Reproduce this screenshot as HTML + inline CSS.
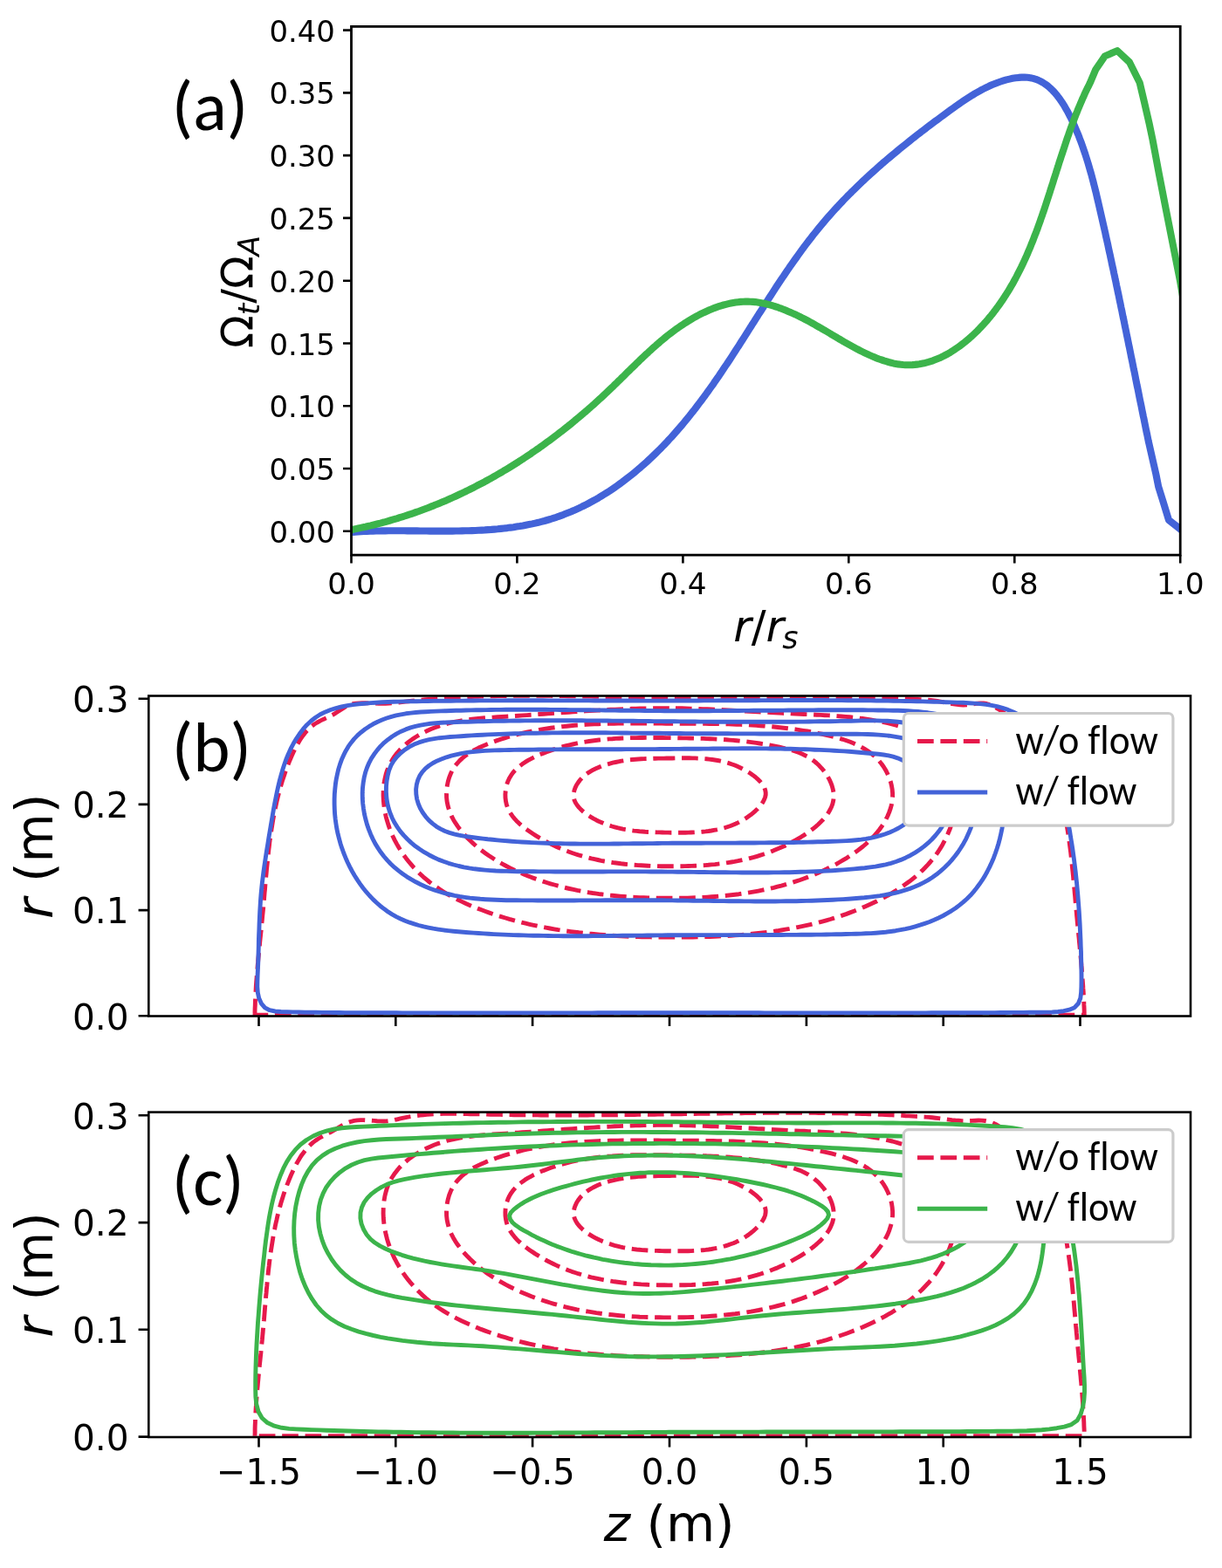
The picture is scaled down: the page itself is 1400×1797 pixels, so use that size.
<!DOCTYPE html>
<html><head><meta charset="utf-8"><title>Figure</title><style>html,body{margin:0;padding:0;background:#fff;}svg{display:block;}.tk{font-family:"DejaVu Sans","Liberation Sans",sans-serif;fill:#000;}.cal{font-family:Carlito,"Liberation Sans",sans-serif;fill:#000;font-variant-ligatures:none;font-feature-settings:"liga" 0,"clig" 0;}</style></head><body>
<svg width="1400" height="1797" viewBox="0 0 1400 1797">
<rect width="1400" height="1797" fill="#fff"/>
<defs>
<clipPath id="clipa"><rect x="402.5" y="30.4" width="949.7" height="605.7"/></clipPath>
<clipPath id="clipb"><rect x="170.3" y="797.5" width="1193.7" height="367.0"/></clipPath>
<clipPath id="clipc"><rect x="170.3" y="1274.6" width="1193.7" height="372.4"/></clipPath>
</defs>
<g clip-path="url(#clipa)" fill="none" stroke-linejoin="round" stroke-linecap="butt">
<path d="M403.4,609.9 L406.7,609.6 L410.1,609.4 L413.6,609.2 L417.0,609.0 L420.4,608.9 L423.9,608.8 L427.4,608.6 L430.9,608.5 L434.4,608.5 L438.0,608.4 L441.5,608.4 L445.1,608.3 L448.7,608.3 L452.3,608.3 L455.9,608.3 L459.5,608.3 L463.1,608.3 L466.8,608.4 L470.4,608.4 L474.1,608.4 L477.7,608.4 L481.4,608.5 L485.1,608.5 L488.8,608.5 L492.5,608.6 L496.2,608.6 L499.9,608.6 L503.6,608.6 L507.3,608.6 L511.0,608.6 L514.7,608.6 L518.4,608.6 L522.1,608.5 L525.8,608.5 L529.5,608.4 L533.2,608.3 L537.0,608.2 L540.7,608.1 L544.4,608.0 L548.1,607.8 L551.8,607.6 L555.5,607.4 L559.1,607.1 L562.8,606.9 L566.5,606.6 L570.1,606.3 L573.8,605.9 L577.4,605.5 L581.1,605.1 L584.7,604.6 L588.3,604.2 L591.9,603.6 L595.5,603.1 L599.1,602.5 L602.6,601.8 L606.2,601.1 L609.7,600.4 L613.2,599.6 L616.7,598.8 L620.2,597.9 L623.7,597.0 L627.1,596.0 L630.6,595.0 L634.0,593.9 L637.4,592.8 L640.7,591.6 L644.1,590.4 L647.4,589.1 L650.7,587.8 L654.0,586.5 L657.3,585.1 L660.6,583.6 L663.8,582.1 L667.0,580.5 L670.2,579.0 L673.4,577.3 L676.5,575.6 L679.7,573.9 L682.8,572.2 L685.9,570.4 L689.0,568.5 L692.0,566.6 L695.1,564.7 L698.1,562.8 L701.1,560.8 L704.0,558.8 L707.0,556.7 L709.9,554.6 L712.8,552.5 L715.7,550.3 L718.6,548.1 L721.4,545.9 L724.3,543.6 L727.1,541.3 L729.8,539.0 L732.6,536.7 L735.3,534.3 L738.1,531.9 L740.8,529.5 L743.4,527.0 L746.1,524.5 L748.7,522.0 L751.3,519.5 L753.9,516.9 L756.5,514.4 L759.0,511.8 L761.6,509.1 L764.1,506.5 L766.5,503.8 L769.0,501.2 L771.4,498.5 L773.8,495.8 L776.2,493.0 L778.6,490.3 L781.0,487.5 L783.3,484.7 L785.6,481.9 L787.9,479.1 L790.2,476.3 L792.4,473.4 L794.7,470.6 L796.9,467.7 L799.1,464.8 L801.3,461.9 L803.5,459.0 L805.6,456.1 L807.8,453.2 L809.9,450.2 L812.1,447.3 L814.2,444.3 L816.3,441.4 L818.3,438.4 L820.4,435.4 L822.5,432.4 L824.5,429.4 L826.6,426.4 L828.6,423.3 L830.6,420.3 L832.7,417.3 L834.7,414.2 L836.7,411.2 L838.7,408.1 L840.6,405.1 L842.6,402.0 L844.6,398.9 L846.6,395.9 L848.5,392.8 L850.5,389.7 L852.5,386.6 L854.4,383.6 L856.4,380.5 L858.3,377.4 L860.3,374.3 L862.2,371.2 L864.2,368.2 L866.1,365.1 L868.1,362.0 L870.0,358.9 L872.0,355.9 L874.0,352.8 L875.9,349.7 L877.9,346.6 L879.8,343.6 L881.8,340.5 L883.8,337.5 L885.8,334.4 L887.7,331.4 L889.7,328.3 L891.7,325.3 L893.7,322.3 L895.7,319.3 L897.8,316.3 L899.8,313.3 L901.8,310.3 L903.9,307.3 L905.9,304.3 L908.0,301.4 L910.1,298.4 L912.2,295.5 L914.3,292.5 L916.4,289.6 L918.5,286.7 L920.6,283.8 L922.8,280.9 L924.9,278.1 L927.1,275.2 L929.3,272.4 L931.5,269.5 L933.8,266.7 L936.0,263.9 L938.3,261.1 L940.6,258.4 L942.9,255.6 L945.2,252.9 L947.5,250.2 L949.9,247.5 L952.2,244.8 L954.6,242.1 L957.0,239.5 L959.5,236.9 L961.9,234.2 L964.4,231.6 L966.8,229.0 L969.3,226.5 L971.8,223.9 L974.4,221.4 L976.9,218.8 L979.5,216.3 L982.0,213.8 L984.6,211.3 L987.2,208.8 L989.9,206.4 L992.5,203.9 L995.1,201.5 L997.8,199.0 L1000.5,196.6 L1003.2,194.2 L1005.9,191.8 L1008.6,189.4 L1011.3,187.0 L1014.1,184.7 L1016.8,182.3 L1019.6,180.0 L1022.4,177.6 L1025.2,175.3 L1028.0,173.0 L1030.8,170.7 L1033.6,168.4 L1036.5,166.1 L1039.3,163.8 L1042.2,161.5 L1045.1,159.2 L1047.9,157.0 L1050.8,154.7 L1053.7,152.5 L1056.6,150.2 L1059.6,148.0 L1062.5,145.7 L1065.4,143.5 L1068.4,141.3 L1071.3,139.1 L1074.3,136.9 L1077.3,134.6 L1080.3,132.4 L1083.3,130.2 L1086.3,128.0 L1089.3,125.8 L1092.3,123.7 L1095.3,121.5 L1098.4,119.4 L1101.4,117.3 L1104.5,115.2 L1107.6,113.2 L1110.7,111.2 L1113.8,109.2 L1116.9,107.3 L1120.1,105.5 L1123.3,103.7 L1126.5,102.0 L1129.7,100.4 L1133.0,98.8 L1136.3,97.3 L1139.6,96.0 L1142.9,94.7 L1146.3,93.5 L1149.7,92.4 L1153.1,91.4 L1156.6,90.6 L1160.1,89.8 L1163.6,89.3 L1167.0,88.9 L1170.4,88.6 L1173.8,88.6 L1177.2,88.8 L1180.4,89.2 L1183.6,89.9 L1186.7,90.8 L1189.7,92.0 L1192.5,93.4 L1195.4,95.0 L1198.1,96.8 L1200.7,98.8 L1203.2,101.0 L1205.7,103.4 L1208.1,105.9 L1210.4,108.6 L1212.6,111.4 L1214.8,114.4 L1216.9,117.5 L1218.9,120.6 L1220.8,123.9 L1222.7,127.2 L1224.5,130.6 L1226.3,134.1 L1228.0,137.6 L1229.6,141.2 L1231.2,144.7 L1232.7,148.3 L1234.2,151.9 L1235.7,155.4 L1237.0,159.0 L1238.4,162.5 L1239.7,166.1 L1240.9,169.6 L1242.1,173.1 L1243.3,176.6 L1244.4,180.1 L1245.5,183.6 L1246.6,187.1 L1247.6,190.6 L1248.6,194.1 L1249.6,197.5 L1250.6,201.0 L1251.5,204.5 L1252.4,207.9 L1253.3,211.4 L1254.2,214.9 L1255.0,218.3 L1255.9,221.8 L1256.7,225.3 L1257.5,228.7 L1258.3,232.2 L1259.1,235.7 L1259.9,239.1 L1260.7,242.6 L1261.5,246.1 L1262.3,249.6 L1263.1,253.1 L1263.9,256.6 L1264.7,260.1 L1265.5,263.6 L1266.3,267.1 L1267.0,270.6 L1267.8,274.2 L1268.6,277.7 L1269.4,281.2 L1270.1,284.7 L1270.9,288.3 L1271.7,291.8 L1272.4,295.3 L1273.2,298.9 L1273.9,302.4 L1274.7,306.0 L1275.5,309.5 L1276.2,313.1 L1277.0,316.6 L1277.7,320.2 L1278.5,323.7 L1279.2,327.3 L1280.0,330.9 L1280.7,334.4 L1281.5,338.0 L1282.2,341.6 L1282.9,345.1 L1283.7,348.7 L1284.4,352.3 L1285.2,355.8 L1285.9,359.4 L1286.6,363.0 L1287.4,366.5 L1288.1,370.1 L1288.8,373.7 L1289.6,377.3 L1290.3,380.8 L1291.0,384.4 L1291.8,388.0 L1292.5,391.6 L1293.2,395.1 L1294.0,398.7 L1294.7,402.3 L1295.4,405.8 L1296.1,409.4 L1296.9,413.0 L1297.6,416.6 L1298.3,420.1 L1299.0,423.7 L1299.8,427.2 L1300.5,430.8 L1301.2,434.4 L1301.9,437.9 L1302.6,441.5 L1303.4,445.0 L1304.1,448.6 L1304.8,452.1 L1305.5,455.7 L1306.2,459.2 L1307.0,462.8 L1307.7,466.3 L1308.4,469.9 L1309.1,473.4 L1309.8,476.9 L1310.6,480.4 L1311.3,484.0 L1312.0,487.5 L1312.7,491.0 L1313.4,494.5 L1314.2,498.0 L1314.9,501.5 L1315.6,505.0 L1324.4,543.6 L1327.2,557.7 L1333.2,577.0 L1339.0,596.0 L1352.0,606.2 L1360.0,612.5" stroke="#4363d8" stroke-width="8.1"/>
<path d="M401.8,607.3 L404.7,606.7 L407.5,606.1 L410.4,605.5 L413.2,604.9 L416.1,604.3 L418.9,603.7 L421.7,603.0 L424.6,602.4 L427.4,601.7 L430.2,601.0 L433.0,600.3 L435.8,599.6 L438.6,598.8 L441.4,598.1 L444.1,597.3 L446.9,596.5 L449.7,595.7 L452.4,594.9 L455.2,594.1 L457.9,593.2 L460.7,592.4 L463.4,591.5 L466.1,590.6 L468.9,589.7 L471.6,588.8 L474.3,587.9 L477.0,586.9 L479.7,586.0 L482.4,585.0 L485.0,584.0 L487.7,583.0 L490.4,582.0 L493.0,580.9 L495.7,579.9 L498.3,578.8 L501.0,577.8 L503.6,576.7 L506.3,575.6 L508.9,574.5 L511.5,573.4 L514.1,572.2 L516.7,571.1 L519.3,569.9 L521.9,568.7 L524.5,567.5 L527.1,566.3 L529.6,565.1 L532.2,563.9 L534.7,562.6 L537.3,561.4 L539.8,560.1 L542.4,558.8 L544.9,557.5 L547.4,556.2 L549.9,554.9 L552.5,553.6 L555.0,552.3 L557.5,550.9 L560.0,549.5 L562.4,548.2 L564.9,546.8 L567.4,545.4 L569.9,543.9 L572.3,542.5 L574.8,541.1 L577.2,539.6 L579.6,538.2 L582.1,536.7 L584.5,535.2 L586.9,533.7 L589.3,532.2 L591.7,530.7 L594.1,529.2 L596.5,527.6 L598.9,526.1 L601.3,524.5 L603.7,522.9 L606.0,521.4 L608.4,519.8 L610.7,518.1 L613.1,516.5 L615.4,514.9 L617.8,513.3 L620.1,511.6 L622.4,510.0 L624.7,508.3 L627.0,506.6 L629.3,504.9 L631.6,503.2 L633.9,501.5 L636.2,499.8 L638.4,498.1 L640.7,496.3 L643.0,494.6 L645.2,492.8 L647.5,491.0 L649.7,489.3 L651.9,487.5 L654.2,485.7 L656.4,483.9 L658.6,482.0 L660.8,480.2 L663.0,478.4 L665.2,476.5 L667.4,474.7 L669.5,472.8 L671.7,471.0 L673.9,469.1 L676.0,467.2 L678.2,465.3 L680.3,463.4 L682.4,461.5 L684.6,459.5 L686.7,457.6 L688.8,455.7 L690.9,453.7 L693.0,451.7 L695.1,449.8 L697.2,447.8 L699.3,445.8 L701.4,443.8 L703.4,441.8 L705.5,439.8 L707.5,437.8 L709.6,435.8 L711.6,433.8 L713.7,431.8 L715.7,429.8 L717.8,427.7 L719.8,425.7 L721.9,423.7 L723.9,421.7 L726.0,419.7 L728.1,417.7 L730.1,415.7 L732.2,413.7 L734.2,411.7 L736.3,409.7 L738.4,407.8 L740.5,405.8 L742.6,403.9 L744.7,401.9 L746.8,400.0 L748.9,398.1 L751.1,396.2 L753.2,394.3 L755.4,392.5 L757.5,390.6 L759.7,388.8 L761.9,387.0 L764.1,385.2 L766.4,383.4 L768.6,381.7 L770.9,380.0 L773.2,378.3 L775.5,376.6 L777.8,375.0 L780.1,373.4 L782.5,371.8 L784.9,370.2 L787.3,368.7 L789.7,367.2 L792.2,365.7 L794.6,364.3 L797.2,362.9 L799.7,361.5 L802.2,360.2 L804.8,358.9 L807.4,357.7 L810.1,356.5 L812.7,355.3 L815.4,354.2 L818.1,353.1 L820.8,352.1 L823.5,351.2 L826.2,350.3 L829.0,349.5 L831.7,348.8 L834.5,348.1 L837.3,347.5 L840.1,347.0 L842.9,346.5 L845.7,346.2 L848.5,345.9 L851.3,345.7 L854.1,345.6 L856.9,345.6 L859.7,345.7 L862.5,345.9 L865.3,346.1 L868.0,346.5 L870.8,346.9 L873.6,347.4 L876.4,348.0 L879.1,348.7 L881.8,349.4 L884.6,350.1 L887.3,351.0 L890.0,351.8 L892.6,352.8 L895.3,353.7 L897.9,354.7 L900.5,355.8 L903.1,356.9 L905.7,358.0 L908.2,359.1 L910.7,360.2 L913.2,361.4 L915.7,362.6 L918.2,363.9 L920.7,365.1 L923.1,366.4 L925.6,367.7 L928.0,369.0 L930.5,370.4 L933.0,371.8 L935.4,373.2 L937.9,374.6 L940.4,376.0 L942.9,377.5 L945.4,378.9 L947.9,380.4 L950.4,381.9 L953.0,383.5 L955.6,385.0 L958.2,386.5 L960.8,388.1 L963.5,389.6 L966.1,391.2 L968.8,392.7 L971.5,394.2 L974.2,395.7 L976.9,397.2 L979.6,398.7 L982.3,400.2 L985.0,401.6 L987.8,403.0 L990.5,404.3 L993.3,405.6 L996.0,406.9 L998.8,408.1 L1001.6,409.3 L1004.3,410.4 L1007.1,411.5 L1009.9,412.4 L1012.6,413.4 L1015.4,414.2 L1018.1,415.0 L1020.9,415.7 L1023.6,416.4 L1026.4,416.9 L1029.1,417.4 L1031.9,417.7 L1034.6,418.0 L1037.3,418.2 L1040.0,418.3 L1042.7,418.2 L1045.3,418.1 L1048.0,417.9 L1050.7,417.6 L1053.3,417.3 L1055.9,416.8 L1058.5,416.3 L1061.1,415.6 L1063.7,414.9 L1066.3,414.1 L1068.8,413.3 L1071.3,412.3 L1073.9,411.3 L1076.4,410.3 L1078.8,409.1 L1081.3,407.9 L1083.7,406.6 L1086.2,405.3 L1088.6,403.9 L1090.9,402.4 L1093.3,400.9 L1095.6,399.3 L1097.9,397.7 L1100.2,396.1 L1102.5,394.3 L1104.7,392.6 L1107.0,390.8 L1109.2,388.9 L1111.3,387.0 L1113.5,385.1 L1115.6,383.1 L1117.7,381.1 L1119.8,379.1 L1121.8,377.0 L1123.8,374.9 L1125.8,372.8 L1127.7,370.6 L1129.7,368.5 L1131.6,366.3 L1133.4,364.0 L1135.3,361.8 L1137.1,359.6 L1138.8,357.3 L1140.6,355.0 L1142.3,352.7 L1144.0,350.4 L1145.6,348.1 L1147.3,345.7 L1148.9,343.4 L1150.4,341.0 L1152.0,338.6 L1153.5,336.2 L1155.0,333.8 L1156.5,331.3 L1157.9,328.9 L1159.4,326.4 L1160.8,323.9 L1162.1,321.5 L1163.5,319.0 L1164.8,316.5 L1166.1,313.9 L1167.4,311.4 L1168.7,308.9 L1170.0,306.3 L1171.2,303.7 L1172.4,301.2 L1173.6,298.6 L1174.8,296.0 L1176.0,293.4 L1177.1,290.8 L1178.2,288.1 L1179.4,285.5 L1180.5,282.9 L1181.5,280.2 L1182.6,277.6 L1183.7,274.9 L1184.7,272.2 L1185.7,269.5 L1186.8,266.9 L1187.8,264.2 L1188.8,261.5 L1189.7,258.8 L1190.7,256.1 L1191.7,253.4 L1192.6,250.6 L1193.6,247.9 L1194.5,245.2 L1195.5,242.5 L1196.4,239.7 L1197.3,237.0 L1198.2,234.3 L1199.1,231.5 L1200.0,228.8 L1200.9,226.0 L1201.8,223.3 L1202.7,220.5 L1203.5,217.8 L1204.4,215.1 L1205.3,212.3 L1206.2,209.5 L1207.0,206.8 L1207.9,204.0 L1208.8,201.3 L1209.7,198.5 L1210.5,195.8 L1211.4,193.1 L1212.3,190.3 L1213.1,187.6 L1214.0,184.8 L1214.9,182.1 L1215.8,179.3 L1216.7,176.6 L1217.6,173.9 L1218.5,171.2 L1219.4,168.4 L1220.3,165.7 L1221.2,163.0 L1222.1,160.3 L1223.0,157.6 L1224.0,154.9 L1224.9,152.2 L1225.9,149.5 L1226.8,146.9 L1227.8,144.2 L1228.8,141.5 L1229.8,138.9 L1230.8,136.2 L1231.8,133.6 L1232.8,130.9 L1233.9,128.3 L1234.9,125.7 L1236.0,123.1 L1237.1,120.5 L1238.2,117.9 L1239.3,115.3 L1240.4,112.7 L1241.6,110.2 L1242.7,107.6 L1243.9,105.1 L1245.1,102.6 L1246.3,100.1 L1247.6,97.6 L1248.8,95.1 L1255.1,80.1 L1265.7,64.4 L1280.0,58.1 L1294.0,71.3 L1305.7,94.7 L1311.2,118.0 L1316.5,141.0 L1320.5,160.0 L1327.8,199.0 L1335.8,240.0 L1343.8,280.5 L1352.0,322.0 L1356.0,345.0" stroke="#3cb44b" stroke-width="8.1"/>
</g>
<g clip-path="url(#clipb)" fill="none" stroke-width="4.9" stroke-linejoin="round">
<path d="M767.0,869.0 L763.8,869.0 L760.5,869.1 L757.3,869.1 L754.0,869.1 L750.8,869.2 L747.5,869.3 L744.3,869.3 L741.1,869.5 L737.8,869.6 L734.6,869.8 L731.3,870.0 L728.1,870.2 L724.8,870.5 L721.6,870.8 L718.3,871.2 L715.1,871.7 L711.8,872.2 L708.5,872.8 L705.3,873.5 L702.0,874.2 L698.7,875.1 L695.4,876.0 L692.2,877.0 L688.9,878.2 L685.8,879.4 L682.7,880.8 L679.7,882.2 L676.8,883.9 L674.0,885.6 L671.3,887.5 L668.8,889.6 L666.5,891.8 L664.3,894.2 L662.4,896.8 L660.6,899.5 L659.2,902.4 L658.1,905.3 L657.4,908.3 L657.1,911.3 L657.4,914.3 L658.1,917.2 L659.4,920.0 L661.2,922.8 L663.3,925.4 L665.7,927.9 L668.4,930.3 L671.2,932.5 L674.0,934.5 L677.0,936.4 L679.9,938.1 L682.9,939.7 L685.9,941.2 L688.9,942.5 L691.9,943.8 L695.0,944.9 L698.0,946.0 L701.1,947.0 L704.2,947.8 L707.3,948.7 L710.4,949.4 L713.6,950.1 L716.7,950.7 L719.9,951.2 L723.0,951.7 L726.2,952.1 L729.4,952.4 L732.6,952.8 L735.9,953.0 L739.1,953.3 L742.3,953.5 L745.6,953.6 L748.8,953.7 L752.1,953.9 L755.4,953.9 L758.7,954.0 L762.0,954.1 L765.3,954.1 L768.6,954.2 L771.9,954.2 L775.3,954.2 L778.6,954.2 L781.9,954.2 L785.3,954.2 L788.6,954.1 L791.9,954.0 L795.2,953.9 L798.5,953.7 L801.8,953.5 L805.1,953.2 L808.4,952.9 L811.7,952.5 L814.9,952.0 L818.1,951.4 L821.3,950.8 L824.5,950.1 L827.7,949.4 L830.8,948.5 L833.9,947.5 L836.9,946.5 L840.0,945.3 L843.0,944.0 L845.9,942.6 L848.8,941.1 L851.7,939.5 L854.6,937.7 L857.3,935.8 L860.1,933.8 L862.8,931.6 L865.4,929.3 L867.9,926.9 L870.2,924.4 L872.3,921.8 L874.1,919.1 L875.5,916.4 L876.6,913.6 L877.2,910.9 L877.2,908.2 L876.7,905.5 L875.8,902.8 L874.3,900.2 L872.6,897.7 L870.4,895.2 L868.0,892.8 L865.4,890.5 L862.6,888.4 L859.6,886.3 L856.6,884.4 L853.6,882.6 L850.5,881.0 L847.4,879.5 L844.3,878.1 L841.2,876.8 L838.1,875.7 L834.9,874.6 L831.8,873.7 L828.6,872.9 L825.4,872.2 L822.2,871.5 L819.0,871.0 L815.8,870.5 L812.6,870.1 L809.3,869.7 L806.1,869.5 L802.9,869.2 L799.6,869.1 L796.4,868.9 L793.1,868.9 L789.8,868.8 L786.6,868.8 L783.3,868.8 L780.1,868.8 L776.8,868.9 L773.5,868.9 L770.3,869.0 L767.0,869.0Z" stroke="#e6194b" stroke-dasharray="18.7 7.7"/>
<path d="M767.1,845.6 L763.3,845.6 L759.4,845.5 L755.5,845.5 L751.7,845.5 L747.8,845.5 L744.0,845.4 L740.1,845.4 L736.2,845.5 L732.4,845.5 L728.5,845.6 L724.7,845.6 L720.8,845.7 L717.0,845.9 L713.1,846.0 L709.3,846.2 L705.4,846.4 L701.6,846.7 L697.8,846.9 L693.9,847.3 L690.1,847.6 L686.3,848.0 L682.5,848.5 L678.7,849.0 L674.9,849.5 L671.1,850.1 L667.3,850.7 L663.6,851.4 L659.8,852.2 L656.0,853.0 L652.3,853.8 L648.6,854.7 L644.8,855.7 L641.1,856.8 L637.4,857.9 L633.7,859.1 L630.1,860.4 L626.4,861.7 L622.8,863.1 L619.1,864.6 L615.5,866.1 L611.9,867.8 L608.4,869.6 L605.0,871.4 L601.7,873.4 L598.5,875.6 L595.5,877.9 L592.7,880.3 L590.0,882.9 L587.6,885.7 L585.5,888.7 L583.6,891.8 L582.0,895.2 L580.7,898.8 L579.8,902.6 L579.2,906.5 L578.9,910.5 L579.0,914.4 L579.5,918.3 L580.3,922.0 L581.5,925.5 L583.0,928.9 L584.9,932.1 L587.0,935.2 L589.4,938.1 L591.9,940.9 L594.7,943.6 L597.7,946.2 L600.7,948.6 L603.9,951.0 L607.2,953.3 L610.5,955.5 L613.8,957.6 L617.1,959.6 L620.5,961.6 L623.9,963.5 L627.3,965.3 L630.8,967.1 L634.2,968.8 L637.7,970.4 L641.2,972.0 L644.7,973.4 L648.3,974.9 L651.9,976.2 L655.5,977.5 L659.1,978.7 L662.7,979.9 L666.4,980.9 L670.1,982.0 L673.8,982.9 L677.5,983.9 L681.2,984.7 L685.0,985.5 L688.7,986.3 L692.5,987.0 L696.3,987.6 L700.1,988.2 L703.9,988.8 L707.7,989.3 L711.5,989.8 L715.4,990.2 L719.2,990.6 L723.0,991.0 L726.9,991.3 L730.8,991.6 L734.6,991.8 L738.5,992.0 L742.4,992.2 L746.2,992.4 L750.1,992.5 L754.0,992.6 L757.8,992.7 L761.7,992.7 L765.6,992.8 L769.4,992.8 L773.3,992.8 L777.1,992.7 L781.0,992.7 L784.8,992.6 L788.6,992.5 L792.5,992.4 L796.3,992.2 L800.1,992.0 L803.9,991.8 L807.7,991.6 L811.5,991.3 L815.3,990.9 L819.1,990.6 L822.8,990.1 L826.6,989.7 L830.4,989.2 L834.1,988.6 L837.9,988.0 L841.6,987.4 L845.3,986.7 L849.0,985.9 L852.7,985.1 L856.4,984.3 L860.1,983.3 L863.8,982.4 L867.5,981.3 L871.1,980.2 L874.8,979.0 L878.4,977.8 L882.0,976.5 L885.6,975.1 L889.2,973.6 L892.8,972.1 L896.4,970.5 L900.0,968.9 L903.5,967.1 L907.1,965.3 L910.6,963.3 L914.1,961.3 L917.6,959.3 L921.1,957.1 L924.5,954.8 L927.8,952.5 L931.1,950.1 L934.2,947.6 L937.2,945.0 L940.0,942.3 L942.7,939.6 L945.2,936.8 L947.4,933.9 L949.4,930.9 L951.1,927.8 L952.6,924.7 L953.8,921.5 L954.6,918.2 L955.1,914.8 L955.2,911.4 L954.9,907.9 L954.2,904.3 L953.2,900.7 L951.9,897.2 L950.3,893.6 L948.4,890.1 L946.2,886.7 L943.8,883.4 L941.2,880.3 L938.4,877.3 L935.4,874.5 L932.3,871.9 L929.1,869.6 L925.8,867.5 L922.3,865.7 L918.8,864.0 L915.3,862.5 L911.6,861.2 L907.9,860.0 L904.2,858.9 L900.5,858.0 L896.7,857.1 L893.0,856.2 L889.2,855.4 L885.4,854.6 L881.6,853.9 L877.9,853.2 L874.1,852.6 L870.3,852.0 L866.5,851.4 L862.7,850.9 L858.9,850.4 L855.1,849.9 L851.3,849.5 L847.5,849.1 L843.7,848.7 L839.9,848.4 L836.1,848.1 L832.3,847.8 L828.5,847.5 L824.7,847.3 L820.8,847.1 L817.0,846.9 L813.2,846.7 L809.4,846.6 L805.5,846.4 L801.7,846.3 L797.9,846.2 L794.0,846.1 L790.2,846.0 L786.4,845.9 L782.5,845.9 L778.7,845.8 L774.8,845.7 L771.0,845.7 L767.1,845.6Z" stroke="#e6194b" stroke-dasharray="18.7 7.7"/>
<path d="M767.4,829.2 L762.9,829.2 L758.3,829.1 L753.8,829.1 L749.2,829.1 L744.7,829.0 L740.1,829.0 L735.6,829.0 L731.0,829.0 L726.4,829.0 L721.9,829.0 L717.3,829.0 L712.8,829.1 L708.2,829.1 L703.6,829.2 L699.1,829.3 L694.5,829.4 L690.0,829.5 L685.4,829.7 L680.9,829.9 L676.3,830.1 L671.8,830.4 L667.2,830.7 L662.7,831.0 L658.2,831.3 L653.7,831.7 L649.2,832.2 L644.7,832.6 L640.2,833.2 L635.7,833.7 L631.2,834.3 L626.7,835.0 L622.2,835.7 L617.8,836.4 L613.3,837.2 L608.9,838.1 L604.5,839.0 L600.1,840.0 L595.7,841.0 L591.3,842.2 L586.9,843.3 L582.5,844.5 L578.2,845.8 L573.9,847.2 L569.5,848.6 L565.2,850.2 L560.9,851.7 L556.7,853.4 L552.5,855.2 L548.3,857.1 L544.3,859.1 L540.4,861.3 L536.6,863.6 L533.0,866.2 L529.7,868.9 L526.5,871.9 L523.6,875.1 L520.9,878.5 L518.5,882.3 L516.5,886.3 L514.8,890.6 L513.4,895.2 L512.4,899.9 L511.7,904.6 L511.5,909.3 L511.6,914.0 L512.1,918.6 L513.0,923.0 L514.2,927.3 L515.7,931.4 L517.4,935.5 L519.5,939.4 L521.8,943.2 L524.3,946.9 L526.9,950.5 L529.8,954.0 L532.8,957.4 L535.9,960.7 L539.1,963.8 L542.4,966.9 L545.8,969.9 L549.3,972.8 L552.9,975.5 L556.6,978.2 L560.3,980.8 L564.2,983.3 L568.0,985.8 L572.0,988.1 L576.0,990.3 L580.0,992.5 L584.1,994.6 L588.3,996.6 L592.4,998.5 L596.6,1000.4 L600.8,1002.2 L605.0,1003.9 L609.2,1005.6 L613.5,1007.1 L617.8,1008.6 L622.1,1010.1 L626.4,1011.5 L630.7,1012.8 L635.0,1014.0 L639.3,1015.2 L643.7,1016.4 L648.1,1017.5 L652.5,1018.5 L656.9,1019.4 L661.3,1020.4 L665.7,1021.2 L670.1,1022.0 L674.6,1022.8 L679.0,1023.5 L683.5,1024.1 L687.9,1024.8 L692.4,1025.3 L696.9,1025.9 L701.4,1026.3 L705.9,1026.8 L710.4,1027.2 L714.9,1027.5 L719.5,1027.9 L724.0,1028.2 L728.5,1028.4 L733.1,1028.6 L737.6,1028.8 L742.1,1029.0 L746.7,1029.1 L751.2,1029.2 L755.8,1029.3 L760.3,1029.3 L764.9,1029.3 L769.5,1029.3 L774.0,1029.3 L778.6,1029.3 L783.1,1029.2 L787.7,1029.1 L792.2,1028.9 L796.8,1028.8 L801.3,1028.6 L805.9,1028.4 L810.4,1028.1 L815.0,1027.8 L819.5,1027.5 L824.0,1027.1 L828.5,1026.7 L833.0,1026.3 L837.5,1025.8 L842.0,1025.2 L846.5,1024.7 L851.0,1024.0 L855.5,1023.4 L859.9,1022.7 L864.4,1021.9 L868.8,1021.1 L873.2,1020.2 L877.6,1019.3 L882.0,1018.3 L886.4,1017.3 L890.7,1016.2 L895.1,1015.1 L899.4,1013.9 L903.7,1012.6 L908.0,1011.3 L912.3,1009.9 L916.6,1008.5 L920.8,1007.0 L925.0,1005.4 L929.2,1003.8 L933.4,1002.1 L937.6,1000.3 L941.7,998.4 L945.8,996.5 L949.9,994.5 L954.0,992.4 L958.0,990.3 L962.0,988.0 L966.0,985.7 L970.0,983.3 L973.9,980.8 L977.7,978.3 L981.5,975.6 L985.2,972.8 L988.8,970.0 L992.3,967.0 L995.6,963.9 L998.9,960.7 L1002.0,957.4 L1004.9,954.0 L1007.7,950.5 L1010.3,946.8 L1012.8,943.0 L1015.0,939.1 L1017.0,935.0 L1018.7,930.9 L1020.2,926.6 L1021.4,922.3 L1022.1,917.9 L1022.6,913.5 L1022.6,909.0 L1022.2,904.6 L1021.4,900.1 L1020.3,895.7 L1018.8,891.4 L1017.0,887.2 L1015.0,883.1 L1012.6,879.2 L1010.0,875.5 L1007.2,872.1 L1004.2,868.8 L1000.9,865.8 L997.5,863.0 L994.0,860.5 L990.2,858.1 L986.4,855.9 L982.4,853.9 L978.3,852.0 L974.1,850.3 L969.8,848.8 L965.4,847.3 L961.0,846.0 L956.5,844.7 L952.0,843.6 L947.5,842.5 L943.0,841.5 L938.4,840.6 L933.9,839.7 L929.4,838.8 L924.9,838.0 L920.4,837.3 L915.9,836.6 L911.4,835.9 L906.9,835.3 L902.4,834.7 L897.9,834.2 L893.4,833.7 L888.9,833.2 L884.4,832.8 L879.9,832.4 L875.4,832.0 L870.9,831.7 L866.4,831.4 L862.0,831.1 L857.5,830.8 L853.0,830.6 L848.5,830.4 L844.0,830.2 L839.5,830.1 L835.0,829.9 L830.5,829.8 L826.1,829.7 L821.6,829.6 L817.1,829.6 L812.6,829.5 L808.1,829.4 L803.6,829.4 L799.1,829.4 L794.5,829.3 L790.0,829.3 L785.5,829.3 L781.0,829.3 L776.5,829.2 L771.9,829.2 L767.4,829.2Z" stroke="#e6194b" stroke-dasharray="18.7 7.7"/>
<path d="M766.8,811.7 L762.0,811.6 L757.2,811.6 L752.4,811.7 L747.6,811.7 L742.8,811.8 L738.0,811.9 L733.2,812.0 L728.4,812.1 L723.6,812.3 L718.8,812.5 L714.0,812.7 L709.2,812.9 L704.4,813.1 L699.6,813.3 L694.8,813.5 L690.0,813.8 L685.2,814.1 L680.4,814.3 L675.6,814.6 L670.9,814.9 L666.1,815.2 L661.3,815.5 L656.5,815.9 L651.7,816.2 L646.9,816.5 L642.1,816.9 L637.3,817.2 L632.5,817.5 L627.7,817.9 L622.8,818.2 L618.0,818.5 L613.2,818.9 L608.4,819.2 L603.6,819.6 L598.7,819.9 L593.9,820.2 L589.1,820.5 L584.2,820.9 L579.4,821.2 L574.6,821.5 L569.7,821.8 L564.9,822.1 L560.0,822.4 L555.2,822.8 L550.3,823.2 L545.5,823.7 L540.7,824.2 L535.9,824.8 L531.1,825.5 L526.4,826.3 L521.6,827.2 L516.9,828.2 L512.2,829.4 L507.6,830.7 L503.0,832.1 L498.4,833.7 L493.8,835.5 L489.4,837.5 L485.0,839.7 L480.7,842.0 L476.5,844.5 L472.5,847.1 L468.6,850.0 L464.9,853.0 L461.3,856.2 L458.0,859.5 L454.9,863.0 L452.1,866.7 L449.5,870.6 L447.2,874.6 L445.2,878.8 L443.5,883.1 L442.1,887.6 L441.0,892.2 L440.1,896.9 L439.5,901.6 L439.2,906.5 L439.1,911.3 L439.3,916.2 L439.7,921.1 L440.3,926.0 L441.1,930.8 L442.1,935.6 L443.4,940.3 L444.8,944.9 L446.4,949.5 L448.1,954.0 L450.1,958.5 L452.2,962.8 L454.5,967.1 L456.9,971.3 L459.5,975.4 L462.2,979.5 L465.1,983.4 L468.1,987.2 L471.2,990.9 L474.4,994.6 L477.8,998.1 L481.2,1001.5 L484.8,1004.8 L488.5,1007.9 L492.2,1011.0 L496.1,1013.9 L500.0,1016.7 L504.0,1019.4 L508.1,1022.0 L512.2,1024.5 L516.4,1026.8 L520.7,1029.1 L525.0,1031.3 L529.3,1033.4 L533.7,1035.5 L538.2,1037.4 L542.6,1039.3 L547.1,1041.1 L551.7,1042.8 L556.2,1044.5 L560.7,1046.1 L565.3,1047.7 L569.9,1049.2 L574.4,1050.6 L579.0,1052.0 L583.6,1053.4 L588.2,1054.6 L592.9,1055.9 L597.5,1057.1 L602.1,1058.2 L606.8,1059.3 L611.5,1060.3 L616.1,1061.3 L620.8,1062.2 L625.5,1063.1 L630.2,1064.0 L634.9,1064.8 L639.6,1065.6 L644.4,1066.3 L649.1,1067.0 L653.8,1067.6 L658.6,1068.2 L663.3,1068.8 L668.1,1069.3 L672.9,1069.9 L677.6,1070.3 L682.4,1070.8 L687.2,1071.2 L692.0,1071.5 L696.8,1071.9 L701.6,1072.2 L706.4,1072.5 L711.3,1072.7 L716.1,1073.0 L720.9,1073.2 L725.7,1073.4 L730.6,1073.5 L735.4,1073.7 L740.3,1073.8 L745.1,1073.9 L750.0,1074.0 L754.8,1074.0 L759.7,1074.1 L764.5,1074.1 L769.4,1074.1 L774.3,1074.1 L779.1,1074.1 L784.0,1074.1 L788.9,1074.0 L793.7,1074.0 L798.6,1073.9 L803.5,1073.8 L808.4,1073.6 L813.2,1073.5 L818.1,1073.3 L822.9,1073.1 L827.8,1072.8 L832.7,1072.6 L837.5,1072.3 L842.3,1071.9 L847.2,1071.6 L852.0,1071.2 L856.8,1070.8 L861.7,1070.3 L866.5,1069.8 L871.3,1069.3 L876.1,1068.7 L880.9,1068.1 L885.6,1067.4 L890.4,1066.8 L895.1,1066.0 L899.9,1065.2 L904.6,1064.4 L909.3,1063.5 L914.0,1062.6 L918.7,1061.7 L923.4,1060.7 L928.1,1059.6 L932.7,1058.5 L937.4,1057.3 L942.0,1056.1 L946.6,1054.8 L951.2,1053.5 L955.7,1052.1 L960.3,1050.6 L964.8,1049.1 L969.3,1047.6 L973.8,1045.9 L978.3,1044.2 L982.7,1042.5 L987.2,1040.7 L991.6,1038.8 L996.0,1036.8 L1000.3,1034.8 L1004.7,1032.7 L1009.0,1030.5 L1013.2,1028.3 L1017.5,1026.0 L1021.7,1023.6 L1025.8,1021.1 L1029.9,1018.5 L1033.9,1015.9 L1037.8,1013.1 L1041.7,1010.3 L1045.5,1007.3 L1049.2,1004.3 L1052.8,1001.2 L1056.3,997.9 L1059.7,994.5 L1062.9,991.1 L1066.1,987.5 L1069.2,983.8 L1072.1,979.9 L1074.9,976.0 L1077.5,971.9 L1080.0,967.7 L1082.3,963.3 L1084.5,958.9 L1086.5,954.3 L1088.4,949.7 L1090.0,945.0 L1091.5,940.2 L1092.7,935.4 L1093.7,930.5 L1094.5,925.6 L1095.0,920.8 L1095.3,915.9 L1095.3,911.0 L1095.1,906.2 L1094.5,901.4 L1093.8,896.7 L1092.7,892.1 L1091.5,887.5 L1089.9,883.1 L1088.2,878.7 L1086.2,874.5 L1083.9,870.4 L1081.4,866.5 L1078.7,862.7 L1075.8,859.1 L1072.7,855.7 L1069.3,852.5 L1065.8,849.4 L1062.0,846.7 L1058.1,844.1 L1053.9,841.7 L1049.7,839.5 L1045.2,837.5 L1040.7,835.7 L1036.1,834.0 L1031.4,832.5 L1026.6,831.1 L1021.8,829.8 L1016.9,828.7 L1012.1,827.6 L1007.2,826.6 L1002.4,825.8 L997.6,824.9 L992.8,824.2 L988.0,823.5 L983.2,822.9 L978.4,822.3 L973.6,821.8 L968.8,821.4 L964.0,821.0 L959.3,820.6 L954.5,820.2 L949.7,819.9 L944.9,819.7 L940.2,819.4 L935.4,819.2 L930.6,818.9 L925.9,818.7 L921.1,818.5 L916.3,818.3 L911.5,818.1 L906.7,817.9 L901.9,817.6 L897.1,817.4 L892.3,817.1 L887.5,816.9 L882.7,816.6 L877.9,816.3 L873.1,816.1 L868.3,815.8 L863.4,815.5 L858.6,815.2 L853.8,815.0 L849.0,814.7 L844.1,814.4 L839.3,814.1 L834.5,813.9 L829.6,813.6 L824.8,813.4 L820.0,813.2 L815.1,813.0 L810.3,812.7 L805.5,812.6 L800.6,812.4 L795.8,812.2 L791.0,812.1 L786.1,811.9 L781.3,811.8 L776.5,811.8 L771.7,811.7 L766.8,811.7Z" stroke="#e6194b" stroke-dasharray="18.7 7.7"/>
<path d="M292.0,1163.3 L292.0,1159.5 L292.1,1155.7 L292.3,1151.8 L292.4,1148.0 L292.6,1144.2 L292.8,1140.4 L293.0,1136.6 L293.2,1132.8 L293.4,1129.0 L293.7,1125.2 L294.0,1121.4 L294.3,1117.6 L294.6,1113.8 L294.9,1110.1 L295.2,1106.3 L295.6,1102.5 L295.9,1098.7 L296.3,1095.0 L296.6,1091.2 L297.0,1087.4 L297.4,1083.7 L297.7,1079.9 L298.1,1076.1 L298.5,1072.3 L298.9,1068.6 L299.3,1064.8 L299.6,1061.0 L300.0,1057.2 L300.4,1053.4 L300.7,1049.7 L301.1,1045.9 L301.5,1042.1 L301.8,1038.3 L302.1,1034.5 L302.5,1030.7 L302.8,1026.8 L303.1,1023.0 L303.5,1019.2 L303.8,1015.4 L304.1,1011.6 L304.5,1007.8 L304.8,1003.9 L305.2,1000.1 L305.5,996.3 L305.9,992.5 L306.3,988.7 L306.7,984.9 L307.1,981.0 L307.5,977.2 L307.9,973.4 L308.4,969.6 L308.8,965.8 L309.3,962.0 L309.9,958.3 L310.4,954.5 L311.0,950.7 L311.6,946.9 L312.2,943.2 L312.8,939.4 L313.5,935.7 L314.2,931.9 L315.0,928.2 L315.8,924.5 L316.6,920.8 L317.4,917.1 L318.3,913.4 L319.3,909.7 L320.2,906.0 L321.2,902.4 L322.3,898.7 L323.4,895.1 L324.6,891.5 L325.8,887.9 L327.0,884.3 L328.3,880.7 L329.7,877.2 L331.1,873.6 L332.6,870.1 L334.1,866.6 L335.7,863.1 L337.3,859.6 L339.0,856.2 L340.9,852.8 L342.8,849.5 L344.8,846.3 L347.0,843.2 L349.3,840.2 L351.7,837.4 L354.3,834.8 L357.1,832.3 L360.1,830.0 L363.4,828.0 L366.8,826.1 L370.3,824.4 L373.9,822.8 L377.5,821.1 L381.0,819.3 L384.4,817.3 L387.6,815.2 L390.8,813.1 L394.0,811.1 L397.2,809.3 L400.5,807.8 L403.9,806.8 L407.5,806.3 L411.2,806.0 L414.9,805.8 L418.7,805.8 L422.5,805.9 L426.3,806.0 L430.1,806.1 L434.0,806.2 L437.8,806.3 L441.6,806.3 L445.5,806.1 L449.3,805.8 L453.0,805.5 L456.8,805.0 L460.6,804.6 L464.3,804.1 L468.1,803.7 L471.9,803.3 L475.7,802.9 L479.4,802.5 L483.2,802.2 L487.0,801.8 L490.8,801.5 L494.6,801.2 L498.3,800.9 L502.1,800.6 L505.9,800.3 L509.7,800.1 L513.5,799.8 L517.3,799.6 L521.1,799.4 L524.9,799.2 L528.6,799.0 L532.4,798.8 L536.2,798.6 L540.0,798.5 L543.8,798.3 L547.6,798.2 L551.4,798.1 L555.2,797.9 L559.0,797.8 L562.8,797.7 L566.6,797.7 L570.5,797.6 L574.3,797.5 L578.1,797.5 L581.9,797.4 L585.7,797.4 L589.5,797.3 L593.3,797.3 L597.1,797.3 L600.9,797.3 L604.7,797.3 L608.6,797.3 L612.4,797.3 L616.2,797.3 L620.0,797.3 L623.8,797.4 L627.6,797.4 L631.5,797.4 L635.3,797.5 L639.1,797.5 L642.9,797.6 L646.7,797.6 L650.5,797.7 L654.4,797.7 L658.2,797.8 L662.0,797.8 L665.8,797.9 L669.7,798.0 L673.5,798.1 L677.3,798.1 L681.1,798.2 L684.9,798.3 L688.8,798.3 L692.6,798.4 L696.4,798.5 L700.2,798.6 L704.1,798.6 L707.9,798.7 L711.7,798.8 L715.5,798.9 L719.4,798.9 L723.2,799.0 L727.0,799.1 L730.8,799.1 L734.6,799.2 L738.5,799.3 L742.3,799.3 L746.1,799.4 L749.9,799.4 L753.8,799.5 L757.6,799.5 L761.4,799.5 L765.2,799.6 L769.0,799.6 L772.9,799.6 L776.7,799.6 L780.5,799.6 L784.3,799.6 L788.1,799.6 L792.0,799.6 L795.8,799.6 L799.6,799.6 L803.4,799.6 L807.2,799.6 L811.1,799.6 L814.9,799.5 L818.7,799.5 L822.5,799.5 L826.3,799.4 L830.1,799.4 L834.0,799.4 L837.8,799.3 L841.6,799.3 L845.4,799.3 L849.2,799.2 L853.0,799.2 L856.8,799.1 L860.7,799.1 L864.5,799.1 L868.3,799.0 L872.1,799.0 L875.9,798.9 L879.7,798.9 L883.5,798.9 L887.4,798.8 L891.2,798.8 L895.0,798.8 L898.8,798.7 L902.6,798.7 L906.4,798.7 L910.2,798.6 L914.0,798.6 L917.8,798.6 L921.7,798.6 L925.5,798.6 L929.3,798.6 L933.1,798.6 L936.9,798.5 L940.7,798.6 L944.5,798.6 L948.3,798.6 L952.1,798.6 L955.9,798.6 L959.7,798.6 L963.5,798.7 L967.4,798.7 L971.2,798.7 L975.0,798.8 L978.8,798.9 L982.6,798.9 L986.4,799.0 L990.2,799.1 L994.0,799.1 L997.8,799.2 L1001.6,799.3 L1005.4,799.4 L1009.2,799.6 L1013.0,799.7 L1016.8,799.8 L1020.7,800.0 L1024.5,800.1 L1028.3,800.3 L1032.1,800.4 L1035.9,800.6 L1039.7,800.8 L1043.5,801.0 L1047.3,801.2 L1051.1,801.4 L1054.9,801.6 L1058.7,801.9 L1062.5,802.2 L1066.3,802.5 L1070.1,802.9 L1073.8,803.5 L1077.6,804.1 L1081.3,804.8 L1085.0,805.5 L1088.7,806.3 L1092.5,806.9 L1096.2,807.4 L1100.0,807.8 L1103.7,808.0 L1107.6,807.9 L1111.4,807.4 L1115.3,806.8 L1119.2,806.2 L1123.0,805.9 L1126.7,805.9 L1130.3,806.5 L1133.8,807.5 L1137.2,808.9 L1140.5,810.6 L1143.7,812.6 L1146.9,814.8 L1150.1,817.0 L1153.3,819.2 L1156.6,821.2 L1159.9,823.2 L1163.3,825.2 L1166.7,827.1 L1170.0,829.1 L1173.3,831.0 L1176.4,833.1 L1179.5,835.3 L1182.4,837.6 L1185.1,840.1 L1187.7,842.8 L1190.0,845.7 L1192.1,848.8 L1194.0,852.1 L1195.8,855.5 L1197.4,859.0 L1199.0,862.6 L1200.5,866.1 L1201.9,869.7 L1203.3,873.3 L1204.7,877.0 L1206.0,880.6 L1207.2,884.2 L1208.4,887.9 L1209.6,891.5 L1210.7,895.2 L1211.8,898.8 L1212.8,902.5 L1213.8,906.2 L1214.8,909.9 L1215.7,913.6 L1216.6,917.3 L1217.4,921.0 L1218.2,924.7 L1219.0,928.4 L1219.8,932.2 L1220.5,935.9 L1221.2,939.7 L1221.8,943.4 L1222.4,947.2 L1223.0,950.9 L1223.6,954.7 L1224.2,958.4 L1224.7,962.2 L1225.2,966.0 L1225.7,969.8 L1226.2,973.5 L1226.7,977.3 L1227.1,981.1 L1227.5,984.9 L1227.9,988.7 L1228.3,992.5 L1228.7,996.3 L1229.1,1000.1 L1229.5,1003.9 L1229.8,1007.7 L1230.2,1011.5 L1230.5,1015.3 L1230.9,1019.1 L1231.2,1022.9 L1231.6,1026.7 L1231.9,1030.5 L1232.2,1034.3 L1232.6,1038.1 L1232.9,1041.9 L1233.3,1045.7 L1233.6,1049.5 L1234.0,1053.3 L1234.3,1057.1 L1234.7,1060.9 L1235.1,1064.6 L1235.4,1068.4 L1235.8,1072.2 L1236.2,1076.0 L1236.5,1079.8 L1236.9,1083.6 L1237.2,1087.4 L1237.6,1091.2 L1237.9,1095.0 L1238.3,1098.8 L1238.6,1102.5 L1238.9,1106.3 L1239.3,1110.1 L1239.6,1113.9 L1239.9,1117.7 L1240.1,1121.5 L1240.4,1125.3 L1240.7,1129.1 L1240.9,1132.9 L1241.2,1136.7 L1241.4,1140.5 L1241.6,1144.3 L1241.8,1148.1 L1241.9,1151.9 L1242.1,1155.7 L1242.2,1159.5 L1242.3,1163.3 Z" stroke="#e6194b" stroke-dasharray="18.7 7.7"/>
<path d="M767.2,858.5 L761.6,858.5 L756.1,858.5 L750.5,858.6 L745.0,858.6 L739.4,858.6 L733.9,858.6 L728.3,858.6 L722.8,858.6 L717.2,858.6 L711.6,858.7 L706.1,858.7 L700.5,858.7 L694.9,858.7 L689.4,858.7 L683.8,858.7 L678.2,858.7 L672.7,858.7 L667.1,858.7 L661.5,858.7 L656.0,858.8 L650.4,858.8 L644.8,858.8 L639.2,858.9 L633.7,858.9 L628.1,858.9 L622.5,859.0 L616.9,859.0 L611.3,859.1 L605.8,859.2 L600.2,859.2 L594.6,859.3 L589.0,859.4 L583.4,859.5 L577.9,859.6 L572.3,859.8 L566.7,859.9 L561.1,860.1 L555.6,860.4 L550.0,860.8 L544.5,861.3 L538.9,861.9 L533.4,862.7 L527.9,863.6 L522.4,864.8 L517.0,866.2 L511.5,867.8 L506.2,869.7 L500.9,871.9 L496.0,874.5 L491.4,877.5 L487.3,880.9 L483.7,884.8 L480.8,889.2 L478.7,894.0 L477.3,899.2 L476.6,904.6 L476.8,910.1 L477.6,915.6 L479.2,921.0 L481.4,926.2 L484.3,931.2 L487.6,935.8 L491.4,940.1 L495.6,943.9 L500.1,947.3 L504.9,950.1 L509.8,952.5 L515.0,954.4 L520.2,955.9 L525.6,957.2 L531.1,958.2 L536.6,959.0 L542.2,959.8 L547.7,960.5 L553.3,961.1 L558.8,961.8 L564.4,962.3 L570.0,962.9 L575.5,963.4 L581.1,963.8 L586.6,964.2 L592.2,964.6 L597.7,965.0 L603.3,965.3 L608.8,965.6 L614.4,965.9 L619.9,966.1 L625.5,966.3 L631.0,966.5 L636.6,966.6 L642.1,966.8 L647.7,966.9 L653.2,967.0 L658.8,967.0 L664.4,967.1 L669.9,967.1 L675.5,967.1 L681.0,967.1 L686.6,967.1 L692.1,967.1 L697.7,967.1 L703.2,967.0 L708.8,967.0 L714.4,966.9 L719.9,966.9 L725.5,966.8 L731.0,966.8 L736.6,966.7 L742.1,966.6 L747.7,966.6 L753.3,966.5 L758.8,966.4 L764.4,966.4 L769.9,966.3 L775.5,966.3 L781.1,966.3 L786.6,966.2 L792.2,966.2 L797.8,966.2 L803.3,966.2 L808.9,966.1 L814.5,966.1 L820.0,966.1 L825.6,966.1 L831.2,966.1 L836.7,966.1 L842.3,966.1 L847.8,966.0 L853.4,966.0 L859.0,966.0 L864.5,966.0 L870.1,965.9 L875.7,965.9 L881.2,965.8 L886.8,965.8 L892.3,965.7 L897.9,965.6 L903.5,965.6 L909.0,965.5 L914.6,965.4 L920.1,965.3 L925.7,965.1 L931.2,965.0 L936.8,964.8 L942.3,964.7 L947.9,964.5 L953.4,964.3 L959.0,964.1 L964.5,963.9 L970.0,963.6 L975.6,963.2 L981.1,962.7 L986.6,962.1 L992.1,961.3 L997.5,960.3 L1003.0,959.1 L1008.4,957.7 L1013.8,956.0 L1019.2,954.0 L1024.4,951.6 L1029.5,949.0 L1034.4,946.0 L1039.0,942.7 L1043.2,939.1 L1047.1,935.1 L1050.4,930.7 L1053.1,926.0 L1055.3,920.9 L1056.7,915.7 L1057.4,910.2 L1057.4,904.8 L1056.5,899.5 L1054.9,894.4 L1052.6,889.4 L1049.7,884.8 L1046.3,880.6 L1042.4,876.8 L1038.1,873.6 L1033.4,870.9 L1028.4,868.8 L1023.2,867.2 L1017.8,865.9 L1012.3,865.0 L1006.6,864.3 L1001.0,863.7 L995.3,863.2 L989.6,862.7 L984.0,862.2 L978.3,861.7 L972.7,861.3 L967.1,860.9 L961.5,860.6 L955.8,860.2 L950.2,859.9 L944.6,859.6 L939.0,859.4 L933.4,859.2 L927.9,858.9 L922.3,858.8 L916.7,858.6 L911.1,858.4 L905.6,858.3 L900.0,858.2 L894.5,858.1 L888.9,858.0 L883.4,858.0 L877.8,857.9 L872.3,857.9 L866.7,857.8 L861.2,857.8 L855.7,857.8 L850.1,857.8 L844.6,857.9 L839.1,857.9 L833.5,857.9 L828.0,857.9 L822.5,858.0 L816.9,858.0 L811.4,858.1 L805.9,858.1 L800.4,858.2 L794.8,858.2 L789.3,858.3 L783.8,858.3 L778.2,858.4 L772.7,858.4 L767.2,858.5Z" stroke="#4363d8"/>
<path d="M767.1,840.5 L761.0,840.4 L754.9,840.3 L748.8,840.3 L742.7,840.2 L736.6,840.2 L730.5,840.1 L724.4,840.1 L718.3,840.0 L712.2,840.0 L706.1,839.9 L700.0,839.9 L693.9,839.8 L687.7,839.8 L681.6,839.8 L675.5,839.8 L669.4,839.8 L663.3,839.8 L657.2,839.8 L651.0,839.8 L644.9,839.8 L638.8,839.9 L632.6,839.9 L626.5,840.0 L620.4,840.1 L614.2,840.2 L608.1,840.3 L602.0,840.4 L595.8,840.6 L589.7,840.8 L583.5,841.0 L577.4,841.2 L571.2,841.4 L565.1,841.6 L558.9,841.9 L552.8,842.2 L546.6,842.5 L540.4,842.9 L534.3,843.3 L528.1,843.7 L521.9,844.1 L515.8,844.5 L509.6,845.1 L503.5,845.7 L497.4,846.6 L491.5,847.7 L485.6,849.1 L479.9,850.9 L474.4,853.1 L469.0,855.9 L463.9,859.2 L459.1,863.0 L454.8,867.2 L451.0,872.0 L448.0,877.1 L445.7,882.7 L444.2,888.6 L443.1,894.7 L442.5,901.0 L442.4,907.4 L442.8,913.8 L443.7,920.0 L445.1,926.1 L447.0,931.9 L449.3,937.5 L452.0,942.8 L455.2,947.9 L458.7,952.8 L462.6,957.4 L466.8,961.8 L471.2,965.9 L475.9,969.8 L480.9,973.3 L486.1,976.7 L491.4,979.7 L496.8,982.5 L502.4,985.1 L508.1,987.3 L513.9,989.3 L519.7,991.0 L525.6,992.5 L531.5,993.8 L537.5,994.9 L543.5,995.8 L549.6,996.5 L555.7,997.1 L561.8,997.6 L568.0,998.0 L574.1,998.2 L580.3,998.4 L586.5,998.6 L592.7,998.7 L598.9,998.7 L605.1,998.8 L611.3,998.8 L617.4,998.9 L623.6,998.9 L629.7,998.9 L635.9,999.0 L642.0,999.0 L648.1,999.0 L654.3,999.0 L660.4,999.0 L666.5,999.0 L672.6,999.0 L678.7,999.0 L684.8,999.0 L690.9,999.0 L697.0,998.9 L703.1,998.9 L709.2,998.9 L715.3,998.9 L721.4,998.9 L727.5,998.9 L733.6,998.9 L739.7,998.9 L745.8,999.0 L751.9,999.0 L758.0,999.0 L764.1,999.1 L770.2,999.1 L776.3,999.2 L782.4,999.2 L788.5,999.3 L794.6,999.4 L800.7,999.5 L806.9,999.5 L813.0,999.6 L819.1,999.7 L825.2,999.8 L831.3,999.8 L837.4,999.9 L843.6,999.9 L849.7,1000.0 L855.8,1000.0 L861.9,1000.0 L868.1,1000.0 L874.2,1000.0 L880.3,1000.0 L886.4,999.9 L892.6,999.9 L898.7,999.8 L904.8,999.7 L911.0,999.5 L917.1,999.3 L923.2,999.1 L929.3,998.9 L935.5,998.7 L941.6,998.4 L947.7,998.1 L953.9,997.7 L960.0,997.3 L966.1,996.9 L972.2,996.4 L978.4,995.9 L984.5,995.3 L990.6,994.7 L996.7,993.9 L1002.8,993.1 L1008.8,992.0 L1014.7,990.8 L1020.6,989.3 L1026.4,987.5 L1032.1,985.4 L1037.7,982.9 L1043.2,980.2 L1048.5,977.1 L1053.6,973.8 L1058.5,970.1 L1063.2,966.2 L1067.6,962.0 L1071.7,957.5 L1075.5,952.8 L1079.0,947.8 L1082.1,942.6 L1084.8,937.1 L1087.2,931.5 L1089.0,925.6 L1090.4,919.5 L1091.4,913.3 L1091.8,906.9 L1091.8,900.6 L1091.3,894.3 L1090.3,888.2 L1088.7,882.3 L1086.4,876.8 L1083.2,871.8 L1079.3,867.4 L1074.8,863.4 L1069.8,859.9 L1064.6,856.8 L1059.2,854.1 L1053.6,851.7 L1048.0,849.6 L1042.3,847.8 L1036.5,846.3 L1030.6,845.1 L1024.6,844.1 L1018.6,843.2 L1012.5,842.6 L1006.4,842.1 L1000.2,841.8 L994.0,841.5 L987.8,841.4 L981.5,841.3 L975.3,841.3 L969.1,841.2 L962.9,841.2 L956.7,841.2 L950.5,841.2 L944.3,841.1 L938.1,841.1 L931.9,841.1 L925.7,841.1 L919.6,841.1 L913.4,841.1 L907.3,841.0 L901.2,841.0 L895.0,841.0 L888.9,841.0 L882.8,841.0 L876.7,841.0 L870.6,841.0 L864.4,840.9 L858.3,840.9 L852.2,840.9 L846.2,840.9 L840.1,840.9 L834.0,840.8 L827.9,840.8 L821.8,840.8 L815.7,840.8 L809.6,840.7 L803.6,840.7 L797.5,840.7 L791.4,840.6 L785.3,840.6 L779.2,840.5 L773.1,840.5 L767.1,840.5Z" stroke="#4363d8"/>
<path d="M766.8,826.7 L760.9,826.7 L755.0,826.6 L749.1,826.6 L743.2,826.5 L737.3,826.4 L731.4,826.4 L725.5,826.3 L719.6,826.3 L713.7,826.2 L707.8,826.1 L701.9,826.1 L696.0,826.0 L690.1,826.0 L684.2,825.9 L678.3,825.9 L672.4,825.9 L666.5,825.8 L660.6,825.8 L654.7,825.8 L648.8,825.8 L642.9,825.8 L636.9,825.8 L631.0,825.8 L625.1,825.8 L619.2,825.8 L613.2,825.8 L607.3,825.9 L601.3,825.9 L595.4,826.0 L589.4,826.0 L583.5,826.1 L577.5,826.2 L571.5,826.3 L565.5,826.4 L559.5,826.5 L553.5,826.7 L547.5,826.8 L541.5,827.0 L535.5,827.2 L529.5,827.3 L523.4,827.5 L517.4,827.8 L511.4,828.0 L505.3,828.3 L499.3,828.8 L493.4,829.3 L487.5,830.1 L481.7,831.1 L476.0,832.4 L470.4,833.9 L464.9,835.9 L459.6,838.2 L454.4,840.9 L449.4,844.0 L444.7,847.4 L440.2,851.1 L436.0,855.2 L432.2,859.6 L428.7,864.3 L425.5,869.2 L422.8,874.3 L420.5,879.7 L418.6,885.3 L417.2,891.0 L416.2,896.9 L415.5,902.8 L415.2,908.9 L415.3,915.0 L415.7,921.0 L416.5,927.1 L417.5,933.1 L418.9,939.0 L420.5,944.9 L422.5,950.6 L424.7,956.2 L427.2,961.6 L429.9,966.9 L433.0,971.9 L436.3,976.8 L439.9,981.5 L443.7,985.9 L447.8,990.2 L452.1,994.2 L456.6,997.9 L461.4,1001.5 L466.2,1004.8 L471.3,1007.9 L476.4,1010.8 L481.7,1013.5 L487.1,1015.9 L492.6,1018.2 L498.1,1020.2 L503.8,1022.0 L509.4,1023.6 L515.1,1025.0 L520.9,1026.3 L526.7,1027.4 L532.5,1028.3 L538.4,1029.1 L544.2,1029.7 L550.2,1030.3 L556.1,1030.7 L562.1,1031.0 L568.0,1031.3 L574.0,1031.5 L580.0,1031.7 L586.0,1031.8 L592.0,1031.8 L598.0,1031.9 L604.0,1031.9 L610.0,1031.9 L616.0,1032.0 L622.0,1032.0 L628.0,1032.0 L633.9,1032.0 L639.9,1032.0 L645.9,1032.0 L651.8,1032.0 L657.8,1032.0 L663.7,1031.9 L669.7,1031.9 L675.6,1031.9 L681.6,1031.9 L687.5,1031.9 L693.4,1031.8 L699.4,1031.8 L705.3,1031.8 L711.2,1031.8 L717.1,1031.8 L723.1,1031.8 L729.0,1031.8 L734.9,1031.8 L740.8,1031.8 L746.7,1031.8 L752.6,1031.8 L758.5,1031.8 L764.4,1031.9 L770.3,1031.9 L776.2,1032.0 L782.1,1032.0 L788.0,1032.1 L793.9,1032.2 L799.8,1032.3 L805.7,1032.3 L811.6,1032.4 L817.5,1032.5 L823.4,1032.6 L829.3,1032.6 L835.2,1032.7 L841.1,1032.8 L847.0,1032.8 L852.9,1032.9 L858.8,1032.9 L864.7,1033.0 L870.7,1033.0 L876.6,1033.0 L882.5,1033.0 L888.4,1033.0 L894.4,1032.9 L900.3,1032.8 L906.2,1032.8 L912.2,1032.7 L918.1,1032.5 L924.1,1032.4 L930.1,1032.2 L936.0,1032.0 L942.0,1031.8 L948.0,1031.5 L954.0,1031.2 L960.0,1030.9 L966.0,1030.6 L972.0,1030.2 L978.1,1029.8 L984.1,1029.3 L990.1,1028.8 L996.1,1028.1 L1002.1,1027.4 L1008.1,1026.6 L1013.9,1025.6 L1019.8,1024.5 L1025.6,1023.3 L1031.3,1021.8 L1036.9,1020.2 L1042.4,1018.4 L1047.8,1016.3 L1053.1,1014.0 L1058.3,1011.4 L1063.3,1008.6 L1068.2,1005.5 L1073.0,1002.1 L1077.5,998.4 L1081.9,994.5 L1086.2,990.3 L1090.2,985.9 L1094.0,981.3 L1097.6,976.5 L1100.9,971.5 L1104.0,966.4 L1106.9,961.1 L1109.4,955.6 L1111.7,950.1 L1113.7,944.4 L1115.5,938.6 L1116.9,932.8 L1117.9,926.8 L1118.7,920.9 L1119.0,914.8 L1119.1,908.8 L1118.7,902.7 L1118.0,896.7 L1116.9,890.8 L1115.5,885.0 L1113.6,879.4 L1111.4,874.0 L1108.7,868.9 L1105.7,864.0 L1102.2,859.4 L1098.4,855.2 L1094.2,851.4 L1089.6,847.8 L1084.8,844.6 L1079.7,841.7 L1074.5,839.1 L1069.0,836.7 L1063.4,834.7 L1057.7,832.9 L1051.9,831.3 L1046.0,830.0 L1040.2,828.9 L1034.3,828.0 L1028.4,827.3 L1022.5,826.7 L1016.6,826.3 L1010.6,826.1 L1004.7,825.9 L998.7,825.9 L992.7,825.9 L986.8,825.9 L980.8,826.1 L974.8,826.2 L968.8,826.3 L962.8,826.4 L956.9,826.6 L950.9,826.7 L944.9,826.8 L938.9,826.8 L933.0,826.9 L927.0,827.0 L921.1,827.1 L915.1,827.1 L909.1,827.2 L903.2,827.2 L897.2,827.2 L891.3,827.3 L885.3,827.3 L879.4,827.3 L873.4,827.3 L867.5,827.3 L861.6,827.3 L855.6,827.3 L849.7,827.3 L843.7,827.3 L837.8,827.3 L831.9,827.2 L826.0,827.2 L820.0,827.2 L814.1,827.1 L808.2,827.1 L802.3,827.1 L796.4,827.0 L790.4,827.0 L784.5,826.9 L778.6,826.9 L772.7,826.8 L766.8,826.7Z" stroke="#4363d8"/>
<path d="M766.9,814.7 L761.2,814.7 L755.6,814.6 L749.9,814.6 L744.2,814.5 L738.6,814.5 L732.9,814.4 L727.2,814.4 L721.6,814.3 L715.9,814.3 L710.2,814.2 L704.6,814.1 L698.9,814.1 L693.2,814.0 L687.6,813.9 L681.9,813.9 L676.2,813.8 L670.6,813.7 L664.9,813.7 L659.2,813.6 L653.5,813.6 L647.9,813.5 L642.2,813.5 L636.5,813.4 L630.8,813.4 L625.1,813.3 L619.5,813.3 L613.8,813.3 L608.1,813.3 L602.4,813.3 L596.7,813.3 L591.0,813.3 L585.3,813.3 L579.6,813.3 L573.9,813.4 L568.2,813.4 L562.5,813.5 L556.7,813.6 L551.0,813.7 L545.3,813.8 L539.6,813.9 L533.8,814.0 L528.1,814.2 L522.4,814.3 L516.6,814.5 L510.9,814.7 L505.1,814.9 L499.3,815.1 L493.6,815.4 L487.8,815.7 L482.1,816.0 L476.3,816.5 L470.7,817.1 L465.0,817.8 L459.4,818.8 L453.9,819.9 L448.4,821.3 L443.0,823.0 L437.7,825.0 L432.6,827.2 L427.5,829.8 L422.7,832.7 L418.1,835.8 L413.7,839.2 L409.5,842.9 L405.7,846.9 L402.2,851.2 L399.0,855.7 L396.2,860.4 L393.7,865.4 L391.4,870.6 L389.5,875.9 L387.8,881.4 L386.5,887.0 L385.3,892.7 L384.4,898.5 L383.8,904.3 L383.3,910.1 L383.1,915.9 L383.1,921.6 L383.3,927.4 L383.6,933.1 L384.2,938.8 L385.0,944.5 L385.9,950.1 L387.1,955.7 L388.5,961.2 L390.0,966.7 L391.8,972.2 L393.7,977.5 L395.9,982.9 L398.2,988.2 L400.7,993.4 L403.4,998.5 L406.3,1003.5 L409.4,1008.4 L412.6,1013.1 L416.0,1017.7 L419.6,1022.2 L423.4,1026.5 L427.3,1030.6 L431.4,1034.5 L435.6,1038.2 L440.0,1041.6 L444.5,1044.9 L449.2,1047.8 L454.0,1050.6 L458.9,1053.0 L464.0,1055.2 L469.2,1057.2 L474.5,1058.9 L479.8,1060.5 L485.3,1061.9 L490.8,1063.1 L496.4,1064.2 L502.1,1065.1 L507.8,1065.9 L513.6,1066.6 L519.3,1067.2 L525.1,1067.8 L530.9,1068.3 L536.7,1068.7 L542.5,1069.1 L548.2,1069.5 L554.0,1069.9 L559.8,1070.3 L565.5,1070.6 L571.2,1070.9 L577.0,1071.1 L582.7,1071.4 L588.4,1071.6 L594.1,1071.8 L599.8,1071.9 L605.5,1072.1 L611.2,1072.2 L616.9,1072.3 L622.6,1072.4 L628.3,1072.5 L634.0,1072.6 L639.6,1072.6 L645.3,1072.7 L651.0,1072.7 L656.6,1072.7 L662.3,1072.7 L668.0,1072.7 L673.6,1072.7 L679.3,1072.6 L684.9,1072.6 L690.6,1072.6 L696.2,1072.5 L701.9,1072.5 L707.5,1072.4 L713.2,1072.3 L718.8,1072.3 L724.5,1072.2 L730.1,1072.1 L735.8,1072.1 L741.5,1072.0 L747.1,1072.0 L752.8,1071.9 L758.4,1071.9 L764.1,1071.8 L769.8,1071.8 L775.5,1071.7 L781.1,1071.7 L786.8,1071.7 L792.5,1071.6 L798.2,1071.6 L803.9,1071.6 L809.6,1071.6 L815.3,1071.6 L821.0,1071.6 L826.7,1071.6 L832.4,1071.6 L838.1,1071.6 L843.8,1071.6 L849.5,1071.6 L855.2,1071.6 L860.9,1071.6 L866.6,1071.6 L872.3,1071.5 L878.0,1071.5 L883.7,1071.5 L889.4,1071.5 L895.2,1071.5 L900.9,1071.4 L906.6,1071.4 L912.3,1071.4 L918.0,1071.3 L923.7,1071.3 L929.4,1071.2 L935.1,1071.1 L940.8,1071.1 L946.5,1071.0 L952.2,1070.9 L957.9,1070.8 L963.6,1070.7 L969.3,1070.5 L975.0,1070.4 L980.7,1070.3 L986.3,1070.1 L992.0,1069.8 L997.7,1069.6 L1003.4,1069.2 L1009.0,1068.7 L1014.7,1068.2 L1020.4,1067.5 L1026.0,1066.7 L1031.7,1065.7 L1037.3,1064.6 L1043.0,1063.3 L1048.5,1061.8 L1054.0,1060.2 L1059.5,1058.4 L1064.9,1056.5 L1070.2,1054.3 L1075.3,1052.0 L1080.4,1049.5 L1085.3,1046.7 L1090.1,1043.8 L1094.8,1040.7 L1099.2,1037.4 L1103.5,1033.9 L1107.6,1030.2 L1111.6,1026.3 L1115.3,1022.1 L1118.8,1017.8 L1122.1,1013.3 L1125.3,1008.7 L1128.3,1003.9 L1131.0,999.0 L1133.6,993.9 L1136.0,988.7 L1138.3,983.4 L1140.3,978.0 L1142.2,972.5 L1143.9,967.0 L1145.4,961.4 L1146.7,955.7 L1147.9,950.0 L1148.9,944.2 L1149.7,938.4 L1150.4,932.6 L1150.9,926.8 L1151.2,921.0 L1151.3,915.3 L1151.1,909.5 L1150.7,903.8 L1150.1,898.1 L1149.2,892.5 L1148.0,886.9 L1146.5,881.4 L1144.7,876.0 L1142.6,870.7 L1140.3,865.6 L1137.7,860.6 L1134.7,855.9 L1131.6,851.3 L1128.1,847.0 L1124.4,843.0 L1120.3,839.2 L1116.1,835.8 L1111.5,832.6 L1106.7,829.8 L1101.7,827.3 L1096.5,825.1 L1091.1,823.1 L1085.6,821.4 L1080.0,820.0 L1074.4,818.7 L1068.8,817.7 L1063.1,816.8 L1057.4,816.1 L1051.8,815.5 L1046.1,815.1 L1040.4,814.7 L1034.6,814.5 L1028.9,814.3 L1023.2,814.2 L1017.5,814.1 L1011.7,814.0 L1006.0,814.0 L1000.3,813.9 L994.6,813.9 L988.9,813.8 L983.1,813.8 L977.4,813.8 L971.7,813.8 L966.0,813.8 L960.3,813.8 L954.6,813.8 L948.9,813.8 L943.2,813.8 L937.5,813.8 L931.8,813.9 L926.1,813.9 L920.4,813.9 L914.7,813.9 L909.0,814.0 L903.3,814.0 L897.6,814.1 L891.9,814.1 L886.2,814.2 L880.5,814.2 L874.8,814.2 L869.1,814.3 L863.4,814.3 L857.7,814.4 L852.1,814.4 L846.4,814.5 L840.7,814.5 L835.0,814.5 L829.3,814.6 L823.6,814.6 L818.0,814.6 L812.3,814.7 L806.6,814.7 L800.9,814.7 L795.3,814.7 L789.6,814.7 L783.9,814.7 L778.2,814.7 L772.6,814.7 L766.9,814.7Z" stroke="#4363d8"/>
<path d="M767.2,803.0 L760.6,803.1 L754.0,803.1 L747.4,803.1 L740.8,803.1 L734.2,803.1 L727.6,803.0 L721.0,803.0 L714.3,803.0 L707.7,803.0 L701.1,803.0 L694.5,803.0 L687.9,803.0 L681.3,803.0 L674.7,802.9 L668.1,802.9 L661.5,802.9 L654.9,802.9 L648.3,802.9 L641.7,802.9 L635.1,802.9 L628.5,802.9 L621.9,802.8 L615.3,802.8 L608.7,802.8 L602.1,802.8 L595.5,802.8 L588.9,802.8 L582.3,802.8 L575.7,802.9 L569.1,802.9 L562.5,802.9 L555.9,802.9 L549.3,802.9 L542.8,803.0 L536.2,803.0 L529.6,803.1 L523.0,803.1 L516.5,803.2 L509.9,803.2 L503.3,803.3 L496.8,803.4 L490.2,803.5 L483.7,803.6 L477.2,803.7 L470.6,803.8 L464.1,803.9 L457.5,804.1 L451.0,804.3 L444.4,804.5 L437.8,804.8 L431.2,805.2 L424.5,805.6 L417.8,806.2 L411.1,806.8 L404.4,807.6 L397.8,808.7 L391.3,810.0 L384.9,811.6 L378.7,813.5 L372.7,815.9 L366.9,818.8 L361.5,822.2 L356.4,826.2 L351.6,830.7 L347.2,835.7 L343.2,841.0 L339.5,846.6 L336.1,852.3 L333.0,858.2 L330.3,864.2 L327.8,870.3 L325.6,876.5 L323.6,882.8 L321.8,889.1 L320.1,895.5 L318.6,901.9 L317.2,908.3 L315.9,914.8 L314.6,921.2 L313.4,927.7 L312.3,934.2 L311.2,940.7 L310.1,947.2 L309.0,953.7 L307.9,960.2 L306.9,966.7 L305.8,973.2 L304.8,979.7 L303.8,986.2 L302.8,992.8 L301.9,999.3 L301.1,1005.8 L300.3,1012.4 L299.6,1018.9 L299.0,1025.5 L298.5,1032.0 L298.1,1038.6 L297.7,1045.2 L297.4,1051.8 L297.1,1058.3 L296.9,1064.9 L296.6,1071.5 L296.4,1078.1 L296.3,1084.7 L296.1,1091.3 L295.9,1097.9 L295.7,1104.5 L295.4,1111.1 L295.1,1117.7 L294.9,1124.3 L294.8,1130.9 L295.3,1137.4 L296.7,1144.0 L299.4,1150.1 L303.5,1154.9 L308.9,1157.7 L315.2,1159.0 L321.9,1159.5 L328.8,1159.7 L335.6,1159.9 L342.3,1160.0 L349.0,1160.2 L355.6,1160.2 L362.2,1160.3 L368.8,1160.4 L375.3,1160.4 L381.9,1160.5 L388.5,1160.5 L395.0,1160.6 L401.6,1160.6 L408.1,1160.6 L414.7,1160.7 L421.3,1160.7 L427.8,1160.7 L434.4,1160.8 L441.0,1160.8 L447.6,1160.8 L454.1,1160.8 L460.7,1160.9 L467.3,1160.9 L473.9,1160.9 L480.4,1160.9 L487.0,1160.9 L493.6,1160.9 L500.2,1160.9 L506.8,1160.9 L513.3,1161.0 L519.9,1161.0 L526.5,1161.0 L533.1,1161.0 L539.7,1161.0 L546.3,1161.0 L552.9,1161.0 L559.5,1161.0 L566.1,1161.0 L572.7,1161.0 L579.3,1161.0 L585.8,1161.0 L592.4,1161.0 L599.0,1160.9 L605.6,1160.9 L612.2,1160.9 L618.8,1160.9 L625.4,1160.9 L632.0,1160.9 L638.6,1160.9 L645.2,1160.9 L651.8,1160.9 L658.4,1160.9 L665.0,1160.9 L671.6,1160.9 L678.2,1160.9 L684.8,1160.8 L691.4,1160.8 L698.0,1160.8 L704.6,1160.8 L711.2,1160.8 L717.8,1160.8 L724.4,1160.8 L731.0,1160.8 L737.6,1160.8 L744.2,1160.8 L750.8,1160.8 L757.4,1160.8 L764.0,1160.8 L770.6,1160.8 L777.2,1160.8 L783.8,1160.8 L790.3,1160.8 L796.9,1160.8 L803.5,1160.8 L810.1,1160.8 L816.7,1160.8 L823.3,1160.8 L829.9,1160.8 L836.5,1160.8 L843.1,1160.8 L849.7,1160.8 L856.2,1160.8 L862.8,1160.8 L869.4,1160.8 L876.0,1160.9 L882.6,1160.9 L889.2,1160.9 L895.8,1160.9 L902.4,1160.9 L908.9,1160.9 L915.5,1160.9 L922.1,1160.9 L928.7,1160.9 L935.3,1160.9 L941.9,1160.9 L948.5,1160.9 L955.0,1160.9 L961.6,1160.9 L968.2,1160.9 L974.8,1160.9 L981.4,1160.9 L988.0,1160.9 L994.6,1160.9 L1001.1,1160.9 L1007.7,1160.9 L1014.3,1160.9 L1020.9,1160.9 L1027.5,1160.9 L1034.1,1160.9 L1040.7,1160.9 L1047.3,1160.9 L1053.8,1160.9 L1060.4,1160.9 L1067.0,1160.8 L1073.6,1160.8 L1080.2,1160.8 L1086.8,1160.8 L1093.4,1160.8 L1100.0,1160.8 L1106.6,1160.7 L1113.2,1160.7 L1119.8,1160.7 L1126.3,1160.6 L1132.9,1160.6 L1139.5,1160.6 L1146.1,1160.5 L1152.7,1160.5 L1159.3,1160.4 L1165.9,1160.4 L1172.5,1160.4 L1179.1,1160.3 L1185.7,1160.3 L1192.3,1160.2 L1198.9,1160.1 L1205.5,1160.0 L1212.1,1159.5 L1218.6,1158.7 L1225.1,1157.2 L1231.1,1154.7 L1235.4,1150.0 L1237.8,1144.0 L1238.6,1137.4 L1238.9,1130.6 L1239.0,1123.9 L1239.0,1117.3 L1238.9,1110.7 L1238.8,1104.2 L1238.6,1097.6 L1238.5,1091.1 L1238.2,1084.5 L1238.0,1077.9 L1237.7,1071.4 L1237.4,1064.8 L1237.1,1058.2 L1236.7,1051.6 L1236.3,1045.1 L1235.8,1038.5 L1235.3,1031.9 L1234.8,1025.4 L1234.2,1018.8 L1233.6,1012.2 L1232.9,1005.7 L1232.2,999.1 L1231.4,992.5 L1230.6,986.0 L1229.7,979.4 L1228.8,972.9 L1227.8,966.4 L1226.7,959.8 L1225.7,953.3 L1224.5,946.8 L1223.3,940.4 L1222.1,933.9 L1220.8,927.4 L1219.5,921.0 L1218.1,914.6 L1216.7,908.2 L1215.2,901.8 L1213.7,895.5 L1212.0,889.1 L1210.2,882.8 L1208.2,876.5 L1206.1,870.3 L1203.7,864.0 L1201.2,857.9 L1198.3,851.9 L1195.1,846.1 L1191.5,840.6 L1187.4,835.4 L1182.8,830.6 L1177.8,826.3 L1172.4,822.4 L1166.8,818.9 L1160.9,815.9 L1154.8,813.4 L1148.6,811.4 L1142.4,809.7 L1136.0,808.4 L1129.6,807.4 L1123.0,806.6 L1116.5,806.1 L1109.9,805.7 L1103.3,805.3 L1096.6,805.1 L1090.0,804.9 L1083.4,804.7 L1076.7,804.4 L1070.1,804.3 L1063.5,804.1 L1056.9,803.9 L1050.3,803.8 L1043.7,803.6 L1037.1,803.5 L1030.5,803.4 L1023.9,803.2 L1017.3,803.1 L1010.7,803.0 L1004.1,803.0 L997.5,802.9 L990.9,802.8 L984.3,802.8 L977.7,802.7 L971.1,802.7 L964.5,802.6 L958.0,802.6 L951.4,802.6 L944.8,802.5 L938.2,802.5 L931.6,802.5 L925.1,802.5 L918.5,802.5 L911.9,802.5 L905.3,802.5 L898.8,802.6 L892.2,802.6 L885.6,802.6 L879.0,802.6 L872.5,802.6 L865.9,802.7 L859.3,802.7 L852.7,802.7 L846.2,802.8 L839.6,802.8 L833.0,802.8 L826.4,802.8 L819.8,802.9 L813.3,802.9 L806.7,802.9 L800.1,803.0 L793.5,803.0 L786.9,803.0 L780.3,803.0 L773.7,803.0 L767.2,803.0Z" stroke="#4363d8"/>
</g>
<g clip-path="url(#clipc)" fill="none" stroke-width="4.9" stroke-linejoin="round">
<path d="M767.0,1347.5 L763.7,1347.5 L760.5,1347.5 L757.2,1347.6 L754.0,1347.6 L750.7,1347.7 L747.5,1347.7 L744.2,1347.8 L741.0,1347.9 L737.8,1348.0 L734.5,1348.2 L731.3,1348.4 L728.0,1348.7 L724.8,1349.0 L721.5,1349.3 L718.3,1349.7 L715.0,1350.2 L711.7,1350.8 L708.5,1351.4 L705.2,1352.1 L701.9,1352.8 L698.5,1353.7 L695.2,1354.6 L692.0,1355.7 L688.7,1356.8 L685.5,1358.1 L682.4,1359.5 L679.4,1361.0 L676.5,1362.7 L673.7,1364.4 L671.1,1366.4 L668.6,1368.5 L666.3,1370.7 L664.1,1373.2 L662.2,1375.8 L660.5,1378.5 L659.2,1381.4 L658.1,1384.3 L657.5,1387.3 L657.2,1390.3 L657.5,1393.3 L658.2,1396.2 L659.5,1399.1 L661.2,1401.9 L663.2,1404.5 L665.6,1407.1 L668.1,1409.5 L670.9,1411.7 L673.7,1413.7 L676.7,1415.6 L679.6,1417.4 L682.6,1419.0 L685.7,1420.5 L688.7,1421.9 L691.8,1423.1 L694.9,1424.3 L697.9,1425.4 L701.0,1426.4 L704.1,1427.3 L707.3,1428.1 L710.4,1428.9 L713.5,1429.6 L716.7,1430.2 L719.8,1430.7 L723.0,1431.2 L726.2,1431.6 L729.4,1432.0 L732.6,1432.3 L735.8,1432.6 L739.0,1432.8 L742.3,1433.0 L745.5,1433.2 L748.8,1433.3 L752.1,1433.4 L755.3,1433.5 L758.6,1433.6 L761.9,1433.7 L765.2,1433.7 L768.6,1433.7 L771.9,1433.8 L775.2,1433.8 L778.6,1433.8 L781.9,1433.8 L785.2,1433.8 L788.6,1433.7 L791.9,1433.6 L795.3,1433.4 L798.6,1433.2 L801.9,1433.0 L805.2,1432.7 L808.5,1432.4 L811.8,1432.0 L815.0,1431.5 L818.3,1430.9 L821.5,1430.3 L824.7,1429.6 L827.8,1428.8 L831.0,1427.9 L834.1,1426.9 L837.1,1425.8 L840.2,1424.7 L843.2,1423.4 L846.1,1422.0 L849.0,1420.4 L851.9,1418.8 L854.7,1417.0 L857.5,1415.1 L860.2,1413.0 L862.9,1410.8 L865.5,1408.5 L868.0,1406.1 L870.3,1403.5 L872.4,1400.9 L874.1,1398.2 L875.6,1395.5 L876.6,1392.7 L877.1,1389.9 L877.2,1387.2 L876.7,1384.5 L875.8,1381.8 L874.4,1379.1 L872.6,1376.6 L870.5,1374.1 L868.1,1371.7 L865.5,1369.4 L862.7,1367.2 L859.8,1365.1 L856.8,1363.2 L853.8,1361.3 L850.7,1359.7 L847.6,1358.2 L844.5,1356.8 L841.4,1355.5 L838.3,1354.3 L835.1,1353.3 L832.0,1352.3 L828.8,1351.5 L825.6,1350.7 L822.4,1350.1 L819.2,1349.5 L815.9,1349.0 L812.7,1348.6 L809.5,1348.3 L806.2,1348.0 L802.9,1347.7 L799.7,1347.6 L796.4,1347.4 L793.1,1347.4 L789.9,1347.3 L786.6,1347.3 L783.3,1347.3 L780.0,1347.3 L776.8,1347.3 L773.5,1347.4 L770.2,1347.4 L767.0,1347.5Z" stroke="#e6194b" stroke-dasharray="18.7 7.7"/>
<path d="M767.1,1323.9 L763.3,1323.8 L759.4,1323.8 L755.5,1323.7 L751.6,1323.7 L747.8,1323.7 L743.9,1323.7 L740.0,1323.7 L736.2,1323.7 L732.3,1323.7 L728.4,1323.8 L724.5,1323.8 L720.7,1323.9 L716.8,1324.1 L713.0,1324.2 L709.1,1324.4 L705.3,1324.6 L701.4,1324.9 L697.6,1325.1 L693.7,1325.5 L689.9,1325.8 L686.1,1326.2 L682.3,1326.7 L678.4,1327.2 L674.6,1327.7 L670.8,1328.3 L667.1,1329.0 L663.3,1329.7 L659.5,1330.4 L655.8,1331.2 L652.0,1332.1 L648.3,1333.1 L644.5,1334.1 L640.8,1335.1 L637.1,1336.3 L633.4,1337.5 L629.8,1338.8 L626.1,1340.2 L622.4,1341.6 L618.8,1343.1 L615.2,1344.7 L611.6,1346.4 L608.1,1348.3 L604.7,1350.2 L601.4,1352.2 L598.3,1354.4 L595.3,1356.7 L592.5,1359.2 L589.9,1361.9 L587.5,1364.7 L585.3,1367.7 L583.5,1370.9 L581.9,1374.3 L580.6,1377.9 L579.7,1381.7 L579.1,1385.5 L578.9,1389.5 L579.0,1393.4 L579.5,1397.3 L580.3,1401.0 L581.5,1404.6 L583.0,1408.0 L584.8,1411.2 L586.9,1414.3 L589.3,1417.3 L591.8,1420.2 L594.6,1422.9 L597.5,1425.5 L600.5,1428.0 L603.7,1430.4 L606.9,1432.7 L610.2,1434.9 L613.5,1437.1 L616.9,1439.2 L620.2,1441.2 L623.6,1443.1 L627.0,1445.0 L630.5,1446.8 L634.0,1448.5 L637.4,1450.1 L641.0,1451.7 L644.5,1453.2 L648.1,1454.6 L651.6,1456.0 L655.2,1457.3 L658.9,1458.5 L662.5,1459.7 L666.2,1460.8 L669.9,1461.8 L673.6,1462.8 L677.3,1463.8 L681.0,1464.6 L684.8,1465.4 L688.5,1466.2 L692.3,1466.9 L696.1,1467.6 L699.9,1468.2 L703.7,1468.8 L707.5,1469.3 L711.4,1469.8 L715.2,1470.2 L719.1,1470.6 L722.9,1471.0 L726.8,1471.3 L730.6,1471.6 L734.5,1471.9 L738.4,1472.1 L742.3,1472.3 L746.1,1472.4 L750.0,1472.6 L753.9,1472.7 L757.8,1472.8 L761.7,1472.8 L765.5,1472.9 L769.4,1472.9 L773.3,1472.9 L777.1,1472.8 L781.0,1472.8 L784.8,1472.7 L788.7,1472.6 L792.5,1472.5 L796.3,1472.3 L800.2,1472.1 L804.0,1471.9 L807.8,1471.6 L811.6,1471.3 L815.4,1471.0 L819.2,1470.6 L823.0,1470.2 L826.8,1469.7 L830.5,1469.2 L834.3,1468.6 L838.1,1468.0 L841.8,1467.3 L845.5,1466.6 L849.3,1465.9 L853.0,1465.0 L856.7,1464.2 L860.4,1463.2 L864.1,1462.2 L867.7,1461.2 L871.4,1460.0 L875.0,1458.8 L878.7,1457.6 L882.3,1456.2 L885.9,1454.8 L889.5,1453.4 L893.1,1451.8 L896.7,1450.2 L900.2,1448.5 L903.8,1446.7 L907.3,1444.8 L910.8,1442.9 L914.4,1440.9 L917.8,1438.8 L921.3,1436.6 L924.7,1434.3 L928.0,1431.9 L931.2,1429.5 L934.4,1426.9 L937.3,1424.3 L940.2,1421.6 L942.8,1418.8 L945.2,1416.0 L947.5,1413.1 L949.5,1410.0 L951.2,1407.0 L952.6,1403.8 L953.8,1400.6 L954.6,1397.3 L955.1,1393.9 L955.2,1390.4 L954.9,1386.9 L954.3,1383.3 L953.3,1379.7 L952.0,1376.1 L950.4,1372.6 L948.5,1369.1 L946.4,1365.6 L944.0,1362.3 L941.4,1359.2 L938.6,1356.1 L935.7,1353.3 L932.6,1350.7 L929.4,1348.4 L926.1,1346.2 L922.6,1344.3 L919.1,1342.6 L915.6,1341.1 L911.9,1339.7 L908.3,1338.5 L904.5,1337.4 L900.8,1336.4 L897.0,1335.5 L893.3,1334.6 L889.5,1333.7 L885.7,1332.9 L881.9,1332.2 L878.1,1331.5 L874.3,1330.8 L870.6,1330.2 L866.8,1329.6 L863.0,1329.1 L859.2,1328.6 L855.4,1328.1 L851.5,1327.7 L847.7,1327.3 L843.9,1326.9 L840.1,1326.6 L836.3,1326.3 L832.5,1326.0 L828.7,1325.7 L824.8,1325.5 L821.0,1325.3 L817.2,1325.1 L813.3,1324.9 L809.5,1324.8 L805.7,1324.6 L801.8,1324.5 L798.0,1324.4 L794.1,1324.3 L790.3,1324.2 L786.4,1324.1 L782.6,1324.1 L778.7,1324.0 L774.9,1324.0 L771.0,1323.9 L767.1,1323.9Z" stroke="#e6194b" stroke-dasharray="18.7 7.7"/>
<path d="M767.4,1307.1 L762.9,1307.1 L758.3,1307.1 L753.8,1307.0 L749.2,1307.0 L744.6,1307.0 L740.1,1307.0 L735.5,1306.9 L730.9,1306.9 L726.3,1306.9 L721.8,1306.9 L717.2,1307.0 L712.6,1307.0 L708.0,1307.1 L703.5,1307.2 L698.9,1307.3 L694.3,1307.4 L689.7,1307.5 L685.2,1307.7 L680.6,1307.9 L676.1,1308.1 L671.5,1308.4 L667.0,1308.7 L662.4,1309.0 L657.9,1309.4 L653.3,1309.8 L648.8,1310.2 L644.3,1310.7 L639.8,1311.2 L635.3,1311.8 L630.8,1312.4 L626.3,1313.1 L621.8,1313.8 L617.4,1314.6 L612.9,1315.4 L608.5,1316.3 L604.1,1317.2 L599.6,1318.2 L595.2,1319.3 L590.8,1320.4 L586.5,1321.6 L582.1,1322.8 L577.7,1324.2 L573.4,1325.6 L569.1,1327.0 L564.8,1328.6 L560.5,1330.2 L556.2,1331.9 L552.0,1333.7 L547.9,1335.6 L543.9,1337.7 L540.0,1339.9 L536.3,1342.3 L532.7,1344.9 L529.3,1347.6 L526.2,1350.7 L523.3,1353.9 L520.7,1357.4 L518.3,1361.2 L516.3,1365.3 L514.6,1369.7 L513.3,1374.3 L512.3,1379.0 L511.7,1383.8 L511.5,1388.5 L511.6,1393.2 L512.1,1397.8 L513.0,1402.2 L514.1,1406.5 L515.6,1410.7 L517.4,1414.8 L519.4,1418.7 L521.7,1422.6 L524.2,1426.3 L526.8,1429.9 L529.6,1433.4 L532.6,1436.8 L535.7,1440.1 L538.9,1443.3 L542.2,1446.4 L545.6,1449.4 L549.1,1452.3 L552.6,1455.1 L556.3,1457.9 L560.0,1460.5 L563.8,1463.0 L567.7,1465.5 L571.7,1467.9 L575.7,1470.2 L579.7,1472.4 L583.8,1474.5 L587.9,1476.5 L592.1,1478.5 L596.2,1480.4 L600.4,1482.2 L604.7,1484.0 L608.9,1485.7 L613.2,1487.3 L617.4,1488.8 L621.7,1490.3 L626.0,1491.7 L630.3,1493.0 L634.7,1494.3 L639.0,1495.5 L643.4,1496.7 L647.8,1497.8 L652.2,1498.8 L656.6,1499.8 L661.0,1500.8 L665.4,1501.6 L669.9,1502.5 L674.3,1503.2 L678.8,1503.9 L683.2,1504.6 L687.7,1505.2 L692.2,1505.8 L696.7,1506.4 L701.2,1506.8 L705.7,1507.3 L710.2,1507.7 L714.8,1508.1 L719.3,1508.4 L723.9,1508.7 L728.4,1508.9 L732.9,1509.2 L737.5,1509.4 L742.1,1509.5 L746.6,1509.6 L751.2,1509.7 L755.8,1509.8 L760.3,1509.9 L764.9,1509.9 L769.5,1509.9 L774.0,1509.8 L778.6,1509.8 L783.2,1509.7 L787.7,1509.6 L792.3,1509.5 L796.9,1509.3 L801.4,1509.1 L806.0,1508.9 L810.6,1508.6 L815.1,1508.3 L819.6,1508.0 L824.2,1507.6 L828.7,1507.2 L833.2,1506.7 L837.7,1506.2 L842.3,1505.7 L846.7,1505.1 L851.2,1504.5 L855.7,1503.8 L860.2,1503.1 L864.6,1502.3 L869.1,1501.5 L873.5,1500.6 L877.9,1499.7 L882.3,1498.7 L886.7,1497.6 L891.1,1496.5 L895.4,1495.4 L899.7,1494.2 L904.1,1492.9 L908.4,1491.6 L912.6,1490.1 L916.9,1488.7 L921.2,1487.1 L925.4,1485.5 L929.6,1483.9 L933.8,1482.1 L937.9,1480.3 L942.0,1478.4 L946.2,1476.5 L950.2,1474.4 L954.3,1472.3 L958.3,1470.1 L962.4,1467.9 L966.3,1465.5 L970.3,1463.1 L974.2,1460.6 L978.0,1457.9 L981.8,1455.2 L985.4,1452.4 L989.0,1449.5 L992.5,1446.5 L995.8,1443.4 L999.1,1440.2 L1002.1,1436.8 L1005.1,1433.4 L1007.8,1429.8 L1010.4,1426.1 L1012.9,1422.3 L1015.1,1418.3 L1017.1,1414.3 L1018.8,1410.1 L1020.2,1405.8 L1021.4,1401.5 L1022.2,1397.1 L1022.6,1392.6 L1022.6,1388.2 L1022.2,1383.7 L1021.5,1379.2 L1020.4,1374.8 L1019.0,1370.5 L1017.2,1366.2 L1015.2,1362.1 L1012.9,1358.2 L1010.3,1354.4 L1007.5,1350.9 L1004.5,1347.6 L1001.3,1344.6 L997.9,1341.7 L994.4,1339.1 L990.7,1336.7 L986.8,1334.5 L982.8,1332.4 L978.7,1330.5 L974.5,1328.8 L970.2,1327.2 L965.9,1325.7 L961.5,1324.3 L957.0,1323.1 L952.5,1321.9 L948.0,1320.8 L943.4,1319.8 L938.9,1318.8 L934.4,1317.9 L929.8,1317.0 L925.3,1316.2 L920.8,1315.4 L916.3,1314.7 L911.8,1314.0 L907.2,1313.4 L902.7,1312.8 L898.2,1312.2 L893.7,1311.7 L889.2,1311.2 L884.7,1310.8 L880.2,1310.4 L875.7,1310.0 L871.2,1309.7 L866.7,1309.4 L862.2,1309.1 L857.7,1308.8 L853.2,1308.6 L848.7,1308.4 L844.2,1308.2 L839.7,1308.0 L835.2,1307.9 L830.7,1307.8 L826.2,1307.7 L821.7,1307.6 L817.2,1307.5 L812.7,1307.4 L808.2,1307.4 L803.7,1307.3 L799.2,1307.3 L794.6,1307.3 L790.1,1307.2 L785.6,1307.2 L781.1,1307.2 L776.5,1307.2 L772.0,1307.1 L767.4,1307.1Z" stroke="#e6194b" stroke-dasharray="18.7 7.7"/>
<path d="M766.8,1289.4 L762.0,1289.4 L757.2,1289.4 L752.4,1289.4 L747.5,1289.5 L742.7,1289.5 L737.9,1289.6 L733.1,1289.8 L728.3,1289.9 L723.5,1290.1 L718.6,1290.2 L713.8,1290.4 L709.0,1290.6 L704.2,1290.8 L699.4,1291.1 L694.6,1291.3 L689.8,1291.6 L685.0,1291.8 L680.2,1292.1 L675.4,1292.4 L670.6,1292.7 L665.8,1293.0 L660.9,1293.3 L656.1,1293.7 L651.3,1294.0 L646.5,1294.3 L641.7,1294.7 L636.9,1295.0 L632.1,1295.3 L627.2,1295.7 L622.4,1296.0 L617.6,1296.4 L612.8,1296.7 L607.9,1297.1 L603.1,1297.4 L598.2,1297.8 L593.4,1298.1 L588.6,1298.4 L583.7,1298.7 L578.9,1299.1 L574.0,1299.4 L569.1,1299.7 L564.3,1300.0 L559.4,1300.3 L554.6,1300.7 L549.7,1301.1 L544.9,1301.6 L540.1,1302.2 L535.3,1302.8 L530.5,1303.5 L525.7,1304.3 L521.0,1305.3 L516.2,1306.3 L511.6,1307.5 L506.9,1308.9 L502.3,1310.4 L497.7,1312.0 L493.2,1313.9 L488.7,1315.9 L484.3,1318.1 L480.1,1320.5 L475.9,1323.0 L471.9,1325.7 L468.0,1328.6 L464.3,1331.7 L460.8,1334.9 L457.5,1338.3 L454.5,1341.9 L451.7,1345.6 L449.1,1349.5 L446.9,1353.6 L444.9,1357.8 L443.2,1362.2 L441.9,1366.7 L440.8,1371.3 L440.0,1376.1 L439.5,1380.9 L439.2,1385.7 L439.1,1390.6 L439.3,1395.5 L439.7,1400.4 L440.3,1405.3 L441.2,1410.2 L442.2,1414.9 L443.4,1419.7 L444.8,1424.4 L446.4,1429.0 L448.1,1433.5 L450.1,1438.0 L452.1,1442.4 L454.4,1446.7 L456.8,1450.9 L459.3,1455.0 L462.0,1459.1 L464.8,1463.0 L467.8,1466.9 L470.9,1470.7 L474.1,1474.3 L477.4,1477.9 L480.9,1481.3 L484.4,1484.6 L488.0,1487.8 L491.8,1490.9 L495.6,1493.9 L499.5,1496.7 L503.5,1499.5 L507.6,1502.1 L511.7,1504.6 L515.9,1507.0 L520.1,1509.4 L524.5,1511.6 L528.8,1513.8 L533.2,1515.8 L537.7,1517.8 L542.1,1519.7 L546.6,1521.6 L551.1,1523.4 L555.7,1525.1 L560.2,1526.7 L564.8,1528.3 L569.4,1529.8 L574.0,1531.3 L578.6,1532.7 L583.2,1534.1 L587.8,1535.4 L592.4,1536.7 L597.1,1537.9 L601.7,1539.0 L606.4,1540.1 L611.1,1541.2 L615.7,1542.2 L620.4,1543.1 L625.1,1544.1 L629.8,1544.9 L634.6,1545.8 L639.3,1546.5 L644.0,1547.3 L648.8,1548.0 L653.5,1548.6 L658.3,1549.3 L663.0,1549.8 L667.8,1550.4 L672.6,1550.9 L677.4,1551.4 L682.2,1551.8 L687.0,1552.2 L691.8,1552.6 L696.6,1553.0 L701.4,1553.3 L706.2,1553.6 L711.1,1553.9 L715.9,1554.1 L720.8,1554.3 L725.6,1554.5 L730.5,1554.7 L735.3,1554.8 L740.2,1554.9 L745.0,1555.0 L749.9,1555.1 L754.8,1555.2 L759.6,1555.2 L764.5,1555.2 L769.4,1555.3 L774.3,1555.3 L779.2,1555.2 L784.0,1555.2 L788.9,1555.2 L793.8,1555.1 L798.7,1555.0 L803.6,1554.9 L808.5,1554.7 L813.4,1554.6 L818.2,1554.4 L823.1,1554.2 L828.0,1553.9 L832.8,1553.7 L837.7,1553.4 L842.6,1553.0 L847.4,1552.7 L852.3,1552.3 L857.1,1551.8 L861.9,1551.4 L866.8,1550.8 L871.6,1550.3 L876.4,1549.7 L881.2,1549.1 L886.0,1548.4 L890.8,1547.7 L895.5,1547.0 L900.3,1546.2 L905.0,1545.4 L909.7,1544.5 L914.5,1543.5 L919.2,1542.5 L923.9,1541.5 L928.5,1540.4 L933.2,1539.3 L937.8,1538.1 L942.5,1536.9 L947.1,1535.6 L951.6,1534.2 L956.2,1532.8 L960.8,1531.3 L965.3,1529.8 L969.8,1528.2 L974.3,1526.5 L978.8,1524.8 L983.2,1523.0 L987.7,1521.2 L992.1,1519.2 L996.5,1517.2 L1000.8,1515.2 L1005.1,1513.1 L1009.5,1510.8 L1013.7,1508.6 L1017.9,1506.2 L1022.1,1503.8 L1026.2,1501.2 L1030.3,1498.6 L1034.3,1495.9 L1038.2,1493.1 L1042.1,1490.3 L1045.8,1487.3 L1049.5,1484.2 L1053.1,1481.0 L1056.6,1477.7 L1059.9,1474.3 L1063.2,1470.8 L1066.4,1467.1 L1069.4,1463.4 L1072.3,1459.5 L1075.0,1455.5 L1077.7,1451.4 L1080.1,1447.2 L1082.5,1442.8 L1084.6,1438.4 L1086.6,1433.8 L1088.4,1429.1 L1090.1,1424.4 L1091.5,1419.6 L1092.7,1414.7 L1093.7,1409.9 L1094.5,1405.0 L1095.0,1400.1 L1095.3,1395.2 L1095.3,1390.3 L1095.1,1385.5 L1094.6,1380.7 L1093.9,1375.9 L1092.9,1371.3 L1091.6,1366.7 L1090.1,1362.2 L1088.4,1357.8 L1086.4,1353.5 L1084.2,1349.4 L1081.8,1345.4 L1079.2,1341.6 L1076.3,1337.9 L1073.2,1334.5 L1069.9,1331.2 L1066.3,1328.1 L1062.6,1325.2 L1058.7,1322.6 L1054.6,1320.2 L1050.3,1318.0 L1045.9,1315.9 L1041.4,1314.0 L1036.8,1312.3 L1032.1,1310.8 L1027.3,1309.3 L1022.5,1308.0 L1017.6,1306.8 L1012.8,1305.7 L1007.9,1304.7 L1003.1,1303.8 L998.2,1303.0 L993.4,1302.2 L988.6,1301.5 L983.8,1300.9 L979.0,1300.3 L974.2,1299.8 L969.4,1299.3 L964.6,1298.9 L959.8,1298.5 L955.0,1298.1 L950.2,1297.8 L945.4,1297.5 L940.7,1297.3 L935.9,1297.0 L931.1,1296.8 L926.3,1296.6 L921.5,1296.3 L916.7,1296.1 L911.9,1295.9 L907.1,1295.7 L902.3,1295.4 L897.5,1295.2 L892.7,1294.9 L887.9,1294.7 L883.1,1294.4 L878.2,1294.1 L873.4,1293.8 L868.6,1293.6 L863.7,1293.3 L858.9,1293.0 L854.1,1292.7 L849.2,1292.5 L844.4,1292.2 L839.5,1291.9 L834.7,1291.7 L829.8,1291.4 L825.0,1291.2 L820.1,1290.9 L815.3,1290.7 L810.4,1290.5 L805.6,1290.3 L800.7,1290.1 L795.9,1290.0 L791.0,1289.8 L786.2,1289.7 L781.3,1289.6 L776.5,1289.5 L771.7,1289.4 L766.8,1289.4Z" stroke="#e6194b" stroke-dasharray="18.7 7.7"/>
<path d="M292.0,1645.7 L292.1,1641.8 L292.1,1637.9 L292.2,1634.0 L292.4,1630.2 L292.5,1626.3 L292.7,1622.5 L292.9,1618.7 L293.1,1614.8 L293.4,1611.0 L293.6,1607.2 L293.9,1603.4 L294.2,1599.6 L294.5,1595.8 L294.8,1592.0 L295.2,1588.2 L295.5,1584.4 L295.9,1580.6 L296.2,1576.9 L296.6,1573.1 L297.0,1569.3 L297.3,1565.5 L297.7,1561.7 L298.1,1557.9 L298.5,1554.1 L298.9,1550.4 L299.2,1546.6 L299.6,1542.8 L300.0,1539.0 L300.4,1535.2 L300.7,1531.4 L301.1,1527.6 L301.4,1523.7 L301.8,1519.9 L302.1,1516.1 L302.5,1512.3 L302.8,1508.4 L303.1,1504.6 L303.4,1500.7 L303.7,1496.9 L304.1,1493.0 L304.4,1489.2 L304.7,1485.3 L305.1,1481.5 L305.4,1477.6 L305.8,1473.8 L306.1,1470.0 L306.5,1466.1 L306.9,1462.3 L307.3,1458.4 L307.7,1454.6 L308.2,1450.7 L308.6,1446.9 L309.1,1443.1 L309.6,1439.3 L310.1,1435.5 L310.7,1431.7 L311.3,1427.9 L311.9,1424.1 L312.5,1420.3 L313.1,1416.5 L313.8,1412.7 L314.6,1409.0 L315.3,1405.2 L316.1,1401.5 L317.0,1397.8 L317.8,1394.0 L318.7,1390.3 L319.7,1386.7 L320.7,1383.0 L321.7,1379.3 L322.8,1375.7 L324.0,1372.0 L325.1,1368.4 L326.4,1364.8 L327.7,1361.2 L329.0,1357.6 L330.4,1354.1 L331.8,1350.6 L333.3,1347.0 L334.9,1343.5 L336.5,1340.1 L338.2,1336.6 L340.0,1333.2 L341.9,1329.9 L343.9,1326.6 L345.9,1323.4 L348.2,1320.4 L350.5,1317.4 L353.0,1314.6 L355.7,1311.9 L358.5,1309.4 L361.5,1307.1 L364.7,1305.0 L368.1,1303.0 L371.6,1301.1 L375.1,1299.3 L378.7,1297.5 L382.1,1295.6 L385.5,1293.6 L388.9,1291.6 L392.2,1289.7 L395.5,1288.0 L398.8,1286.5 L402.2,1285.3 L405.7,1284.4 L409.3,1283.9 L413.0,1283.6 L416.7,1283.6 L420.5,1283.8 L424.4,1284.1 L428.2,1284.4 L432.1,1284.7 L436.0,1284.9 L439.9,1285.0 L443.7,1284.8 L447.5,1284.3 L451.3,1283.7 L455.0,1282.8 L458.8,1281.9 L462.5,1281.1 L466.3,1280.4 L470.0,1279.7 L473.8,1279.1 L477.6,1278.6 L481.3,1278.1 L485.1,1277.7 L488.9,1277.4 L492.7,1277.1 L496.6,1276.9 L500.4,1276.7 L504.2,1276.5 L508.0,1276.4 L511.9,1276.4 L515.7,1276.3 L519.6,1276.3 L523.4,1276.4 L527.3,1276.4 L531.1,1276.5 L535.0,1276.6 L538.8,1276.7 L542.7,1276.7 L546.6,1276.8 L550.4,1276.9 L554.3,1277.0 L558.1,1277.1 L562.0,1277.2 L565.8,1277.3 L569.7,1277.4 L573.5,1277.4 L577.4,1277.5 L581.2,1277.6 L585.1,1277.6 L588.9,1277.7 L592.7,1277.7 L596.6,1277.8 L600.4,1277.8 L604.3,1277.8 L608.1,1277.9 L611.9,1277.9 L615.8,1277.9 L619.6,1278.0 L623.4,1278.0 L627.3,1278.0 L631.1,1278.0 L635.0,1278.0 L638.8,1278.0 L642.6,1278.0 L646.5,1278.0 L650.3,1278.0 L654.1,1278.0 L657.9,1278.0 L661.8,1278.0 L665.6,1278.0 L669.4,1278.0 L673.3,1278.0 L677.1,1277.9 L680.9,1277.9 L684.7,1277.9 L688.6,1277.9 L692.4,1277.8 L696.2,1277.8 L700.1,1277.8 L703.9,1277.7 L707.7,1277.7 L711.5,1277.6 L715.4,1277.6 L719.2,1277.6 L723.0,1277.5 L726.9,1277.5 L730.7,1277.4 L734.5,1277.4 L738.4,1277.3 L742.2,1277.3 L746.0,1277.2 L749.8,1277.2 L753.7,1277.1 L757.5,1277.1 L761.3,1277.0 L765.2,1276.9 L769.0,1276.9 L772.8,1276.8 L776.7,1276.8 L780.5,1276.7 L784.3,1276.6 L788.2,1276.6 L792.0,1276.5 L795.8,1276.5 L799.7,1276.4 L803.5,1276.3 L807.4,1276.3 L811.2,1276.2 L815.0,1276.2 L818.9,1276.1 L822.7,1276.0 L826.6,1276.0 L830.4,1275.9 L834.2,1275.9 L838.1,1275.8 L841.9,1275.8 L845.8,1275.7 L849.6,1275.7 L853.4,1275.6 L857.3,1275.6 L861.1,1275.6 L865.0,1275.5 L868.8,1275.5 L872.6,1275.5 L876.5,1275.4 L880.3,1275.4 L884.2,1275.4 L888.0,1275.4 L891.8,1275.3 L895.7,1275.3 L899.5,1275.3 L903.3,1275.3 L907.2,1275.3 L911.0,1275.3 L914.9,1275.3 L918.7,1275.3 L922.5,1275.4 L926.4,1275.4 L930.2,1275.4 L934.1,1275.4 L937.9,1275.5 L941.7,1275.5 L945.6,1275.6 L949.4,1275.6 L953.2,1275.7 L957.1,1275.7 L960.9,1275.8 L964.7,1275.9 L968.6,1276.0 L972.4,1276.1 L976.2,1276.2 L980.0,1276.3 L983.9,1276.4 L987.7,1276.5 L991.5,1276.6 L995.4,1276.7 L999.2,1276.9 L1003.0,1277.0 L1006.8,1277.2 L1010.7,1277.3 L1014.5,1277.5 L1018.3,1277.7 L1022.1,1277.8 L1025.9,1278.0 L1029.8,1278.2 L1033.6,1278.4 L1037.4,1278.7 L1041.2,1278.9 L1045.0,1279.1 L1048.8,1279.4 L1052.7,1279.6 L1056.5,1279.9 L1060.3,1280.1 L1064.1,1280.4 L1067.9,1280.8 L1071.7,1281.2 L1075.5,1281.6 L1079.3,1282.1 L1083.1,1282.6 L1086.9,1283.1 L1090.6,1283.6 L1094.4,1284.0 L1098.2,1284.3 L1102.0,1284.6 L1105.9,1284.7 L1109.7,1284.6 L1113.5,1284.4 L1117.4,1284.2 L1121.1,1284.0 L1124.9,1284.1 L1128.5,1284.5 L1132.0,1285.2 L1135.5,1286.3 L1138.9,1287.6 L1142.2,1289.3 L1145.5,1291.3 L1148.8,1293.4 L1152.0,1295.5 L1155.4,1297.6 L1158.7,1299.6 L1162.1,1301.7 L1165.4,1303.7 L1168.7,1305.7 L1172.0,1307.9 L1175.2,1310.0 L1178.2,1312.3 L1181.1,1314.7 L1183.9,1317.2 L1186.5,1320.0 L1188.9,1322.9 L1191.0,1325.9 L1193.0,1329.2 L1194.8,1332.6 L1196.6,1336.0 L1198.2,1339.6 L1199.7,1343.1 L1201.2,1346.7 L1202.6,1350.3 L1204.0,1353.9 L1205.3,1357.5 L1206.6,1361.1 L1207.8,1364.8 L1209.0,1368.4 L1210.2,1372.1 L1211.3,1375.8 L1212.3,1379.4 L1213.3,1383.1 L1214.3,1386.8 L1215.3,1390.5 L1216.2,1394.3 L1217.0,1398.0 L1217.8,1401.7 L1218.6,1405.5 L1219.4,1409.2 L1220.1,1413.0 L1220.8,1416.7 L1221.5,1420.5 L1222.1,1424.3 L1222.7,1428.1 L1223.3,1431.9 L1223.9,1435.6 L1224.4,1439.4 L1224.9,1443.2 L1225.4,1447.0 L1225.9,1450.9 L1226.4,1454.7 L1226.8,1458.5 L1227.3,1462.3 L1227.7,1466.1 L1228.1,1470.0 L1228.5,1473.8 L1228.8,1477.6 L1229.2,1481.4 L1229.6,1485.3 L1229.9,1489.1 L1230.3,1492.9 L1230.6,1496.8 L1230.9,1500.6 L1231.3,1504.4 L1231.6,1508.2 L1231.9,1512.1 L1232.3,1515.9 L1232.6,1519.7 L1233.0,1523.5 L1233.3,1527.4 L1233.7,1531.2 L1234.0,1535.0 L1234.4,1538.8 L1234.7,1542.6 L1235.1,1546.4 L1235.5,1550.2 L1235.8,1554.0 L1236.2,1557.8 L1236.6,1561.6 L1236.9,1565.4 L1237.3,1569.2 L1237.6,1573.0 L1238.0,1576.9 L1238.3,1580.7 L1238.7,1584.5 L1239.0,1588.3 L1239.3,1592.1 L1239.6,1595.9 L1239.9,1599.7 L1240.2,1603.5 L1240.5,1607.3 L1240.7,1611.1 L1241.0,1614.9 L1241.2,1618.8 L1241.4,1622.6 L1241.6,1626.4 L1241.8,1630.2 L1241.9,1634.1 L1242.1,1637.9 L1242.2,1641.7 L1242.3,1645.6 Z" stroke="#e6194b" stroke-dasharray="18.7 7.7"/>
<path d="M949.5,1392.4 L948.4,1388.5 L945.2,1384.9 L941.0,1381.8 L936.4,1379.2 L931.8,1376.7 L927.1,1374.4 L922.4,1372.3 L917.7,1370.3 L912.9,1368.5 L908.2,1366.8 L903.4,1365.2 L898.5,1363.7 L893.7,1362.3 L888.8,1361.0 L883.9,1359.8 L879.0,1358.6 L874.1,1357.5 L869.2,1356.5 L864.2,1355.5 L859.3,1354.5 L854.3,1353.5 L849.3,1352.6 L844.3,1351.7 L839.3,1350.9 L834.3,1350.1 L829.3,1349.3 L824.3,1348.6 L819.3,1347.9 L814.2,1347.3 L809.2,1346.7 L804.1,1346.1 L799.1,1345.6 L794.0,1345.2 L789.0,1344.8 L783.9,1344.4 L778.8,1344.2 L773.8,1343.9 L768.7,1343.8 L763.6,1343.6 L758.6,1343.6 L753.5,1343.6 L748.5,1343.7 L743.4,1343.8 L738.4,1344.1 L733.3,1344.3 L728.3,1344.7 L723.2,1345.1 L718.2,1345.6 L713.2,1346.2 L708.2,1346.8 L703.2,1347.5 L698.2,1348.3 L693.2,1349.1 L688.2,1350.0 L683.2,1351.0 L678.2,1352.0 L673.3,1353.1 L668.3,1354.2 L663.4,1355.4 L658.4,1356.7 L653.5,1358.0 L648.6,1359.3 L643.7,1360.7 L638.8,1362.2 L633.9,1363.7 L629.0,1365.3 L624.2,1367.0 L619.4,1368.7 L614.7,1370.7 L610.1,1372.7 L605.6,1375.0 L601.1,1377.4 L596.8,1380.1 L592.6,1383.0 L588.6,1386.1 L585.2,1389.6 L583.6,1393.3 L584.5,1397.3 L587.1,1401.0 L590.9,1404.3 L595.3,1407.3 L600.0,1410.1 L604.8,1412.7 L609.5,1415.3 L614.1,1417.7 L618.8,1420.0 L623.5,1422.1 L628.2,1424.2 L632.8,1426.2 L637.5,1428.1 L642.2,1429.8 L646.9,1431.5 L651.6,1433.1 L656.3,1434.7 L661.1,1436.1 L665.9,1437.5 L670.7,1438.8 L675.6,1440.0 L680.5,1441.2 L685.4,1442.2 L690.3,1443.3 L695.3,1444.2 L700.3,1445.1 L705.3,1445.9 L710.3,1446.6 L715.4,1447.3 L720.4,1447.8 L725.5,1448.4 L730.6,1448.8 L735.6,1449.2 L740.7,1449.5 L745.8,1449.8 L750.9,1449.9 L756.0,1450.0 L761.1,1450.1 L766.2,1450.1 L771.3,1450.0 L776.4,1449.8 L781.4,1449.6 L786.5,1449.3 L791.6,1448.9 L796.6,1448.5 L801.7,1448.0 L806.7,1447.5 L811.7,1446.9 L816.7,1446.2 L821.7,1445.4 L826.7,1444.6 L831.7,1443.7 L836.7,1442.8 L841.6,1441.8 L846.6,1440.7 L851.5,1439.6 L856.4,1438.4 L861.3,1437.1 L866.2,1435.8 L871.1,1434.4 L875.9,1432.9 L880.7,1431.4 L885.5,1429.8 L890.3,1428.2 L895.1,1426.5 L899.9,1424.7 L904.6,1422.9 L909.3,1421.0 L914.0,1419.1 L918.7,1417.0 L923.3,1414.8 L927.8,1412.5 L932.2,1409.9 L936.4,1407.0 L940.5,1403.9 L944.4,1400.4 L947.8,1396.5 L949.5,1392.4Z" stroke="#3cb44b"/>
<path d="M413.0,1389.7 L414.5,1383.6 L417.2,1377.9 L421.1,1372.7 L425.8,1368.1 L431.3,1364.0 L437.2,1360.4 L443.4,1357.4 L449.8,1355.0 L456.3,1353.1 L462.8,1351.6 L469.3,1350.3 L475.9,1349.2 L482.4,1348.2 L489.0,1347.2 L495.6,1346.4 L502.2,1345.5 L508.8,1344.8 L515.5,1344.1 L522.1,1343.5 L528.7,1342.9 L535.4,1342.3 L542.0,1341.7 L548.7,1341.2 L555.4,1340.7 L562.0,1340.1 L568.7,1339.6 L575.3,1339.0 L582.0,1338.5 L588.7,1337.9 L595.3,1337.2 L602.0,1336.5 L608.6,1335.8 L615.3,1335.0 L621.9,1334.2 L628.5,1333.4 L635.2,1332.5 L641.8,1331.7 L648.4,1330.9 L655.1,1330.1 L661.7,1329.3 L668.4,1328.5 L675.0,1327.8 L681.6,1327.1 L688.3,1326.5 L694.9,1326.0 L701.6,1325.6 L708.2,1325.2 L714.9,1324.8 L721.6,1324.6 L728.2,1324.3 L734.9,1324.2 L741.6,1324.1 L748.3,1324.0 L754.9,1324.0 L761.6,1324.1 L768.3,1324.2 L775.0,1324.3 L781.7,1324.5 L788.3,1324.7 L795.0,1325.0 L801.7,1325.3 L808.4,1325.7 L815.1,1326.0 L821.7,1326.5 L828.4,1326.9 L835.1,1327.4 L841.8,1327.9 L848.4,1328.4 L855.1,1328.9 L861.8,1329.5 L868.4,1330.1 L875.1,1330.7 L881.7,1331.3 L888.4,1332.0 L895.0,1332.6 L901.6,1333.3 L908.3,1333.9 L914.9,1334.6 L921.5,1335.3 L928.1,1336.0 L934.7,1336.7 L941.3,1337.3 L947.9,1338.0 L954.5,1338.7 L961.1,1339.4 L967.7,1340.0 L974.2,1340.7 L980.8,1341.4 L987.5,1342.1 L994.1,1342.8 L1000.7,1343.4 L1007.4,1344.1 L1014.1,1344.8 L1020.8,1345.5 L1027.5,1346.3 L1034.3,1347.0 L1041.1,1347.7 L1047.9,1348.6 L1054.7,1349.5 L1061.5,1350.6 L1068.1,1351.9 L1074.7,1353.5 L1081.1,1355.4 L1087.3,1357.6 L1093.4,1360.3 L1099.2,1363.3 L1104.8,1366.9 L1110.2,1371.0 L1115.2,1375.8 L1119.6,1381.0 L1122.9,1386.6 L1124.8,1392.5 L1124.8,1398.5 L1123.1,1404.4 L1119.9,1410.1 L1115.4,1415.2 L1110.1,1419.9 L1104.4,1424.2 L1098.6,1428.0 L1092.6,1431.3 L1086.5,1434.3 L1080.3,1437.0 L1074.1,1439.3 L1067.7,1441.4 L1061.3,1443.2 L1054.9,1444.8 L1048.4,1446.2 L1041.8,1447.5 L1035.3,1448.6 L1028.7,1449.7 L1022.1,1450.8 L1015.5,1451.8 L1008.9,1452.8 L1002.3,1453.9 L995.7,1454.8 L989.1,1455.8 L982.5,1456.8 L975.9,1457.7 L969.3,1458.7 L962.7,1459.6 L956.1,1460.5 L949.5,1461.4 L942.8,1462.3 L936.2,1463.2 L929.6,1464.1 L923.0,1464.9 L916.4,1465.8 L909.7,1466.6 L903.1,1467.4 L896.5,1468.2 L889.9,1469.0 L883.2,1469.8 L876.6,1470.6 L870.0,1471.4 L863.3,1472.1 L856.7,1472.9 L850.0,1473.7 L843.4,1474.4 L836.8,1475.1 L830.1,1475.9 L823.5,1476.6 L816.8,1477.3 L810.2,1478.0 L803.5,1478.7 L796.9,1479.4 L790.2,1480.0 L783.6,1480.6 L776.9,1481.1 L770.3,1481.6 L763.6,1481.9 L757.0,1482.2 L750.3,1482.4 L743.7,1482.5 L737.0,1482.5 L730.4,1482.4 L723.8,1482.1 L717.1,1481.7 L710.5,1481.3 L703.9,1480.7 L697.3,1480.0 L690.6,1479.2 L684.0,1478.4 L677.4,1477.5 L670.8,1476.5 L664.2,1475.5 L657.6,1474.4 L650.9,1473.2 L644.3,1472.1 L637.7,1470.8 L631.1,1469.6 L624.5,1468.4 L617.9,1467.1 L611.3,1465.8 L604.7,1464.6 L598.1,1463.3 L591.5,1462.1 L584.9,1460.9 L578.3,1459.7 L571.7,1458.6 L565.2,1457.5 L558.6,1456.4 L552.0,1455.4 L545.4,1454.5 L538.8,1453.6 L532.2,1452.7 L525.6,1451.8 L519.1,1450.9 L512.5,1449.9 L505.9,1448.8 L499.4,1447.7 L492.9,1446.5 L486.3,1445.2 L479.8,1443.7 L473.3,1442.1 L466.9,1440.3 L460.4,1438.3 L454.0,1436.1 L447.6,1433.7 L441.4,1431.0 L435.3,1427.9 L429.6,1424.3 L424.5,1420.1 L420.1,1415.0 L416.6,1409.1 L414.1,1402.7 L412.9,1396.1 L413.0,1389.7Z" stroke="#3cb44b"/>
<path d="M1032.4,1320.4 L1024.5,1319.8 L1016.7,1319.3 L1008.8,1318.8 L1001.0,1318.3 L993.1,1317.8 L985.3,1317.3 L977.4,1316.9 L969.5,1316.4 L961.7,1316.0 L953.8,1315.6 L945.9,1315.2 L938.0,1314.8 L930.2,1314.4 L922.3,1314.1 L914.4,1313.7 L906.5,1313.4 L898.6,1313.1 L890.8,1312.8 L882.9,1312.5 L875.0,1312.3 L867.1,1312.0 L859.2,1311.8 L851.3,1311.6 L843.4,1311.4 L835.5,1311.2 L827.6,1311.1 L819.7,1310.9 L811.8,1310.8 L803.9,1310.7 L796.0,1310.6 L788.1,1310.6 L780.2,1310.5 L772.3,1310.5 L764.4,1310.4 L756.5,1310.4 L748.6,1310.5 L740.7,1310.5 L732.8,1310.5 L724.9,1310.6 L717.0,1310.7 L709.2,1310.8 L701.3,1310.9 L693.4,1311.1 L685.5,1311.3 L677.6,1311.5 L669.7,1311.7 L661.8,1311.9 L653.9,1312.1 L646.0,1312.4 L638.1,1312.7 L630.2,1313.0 L622.4,1313.3 L614.5,1313.7 L606.6,1314.0 L598.7,1314.4 L590.9,1314.8 L583.0,1315.2 L575.1,1315.7 L567.3,1316.2 L559.4,1316.6 L551.5,1317.2 L543.7,1317.7 L535.8,1318.2 L528.0,1318.8 L520.1,1319.4 L512.3,1320.0 L504.4,1320.7 L496.5,1321.3 L488.7,1322.0 L480.8,1322.6 L472.9,1323.3 L465.0,1324.0 L457.1,1324.7 L449.1,1325.5 L441.2,1326.2 L433.2,1327.0 L425.4,1328.2 L417.6,1329.7 L410.1,1332.0 L402.9,1335.0 L396.0,1338.8 L389.5,1343.4 L383.6,1348.6 L378.4,1354.4 L373.8,1360.7 L370.2,1367.6 L367.4,1374.9 L365.6,1382.5 L364.7,1390.3 L364.6,1398.3 L365.4,1406.3 L367.0,1414.1 L369.3,1421.9 L372.2,1429.4 L375.9,1436.6 L380.1,1443.5 L384.8,1449.9 L390.1,1455.9 L395.8,1461.3 L401.9,1466.1 L408.4,1470.3 L415.2,1474.0 L422.2,1477.1 L429.5,1479.8 L437.0,1482.1 L444.7,1484.1 L452.4,1485.8 L460.3,1487.3 L468.2,1488.6 L476.1,1489.9 L483.9,1491.1 L491.8,1492.2 L499.7,1493.2 L507.6,1494.2 L515.4,1495.2 L523.3,1496.1 L531.1,1496.9 L539.0,1497.7 L546.8,1498.5 L554.6,1499.3 L562.5,1500.0 L570.3,1500.7 L578.1,1501.4 L586.0,1502.1 L593.8,1502.8 L601.6,1503.5 L609.4,1504.2 L617.3,1505.0 L625.1,1505.7 L632.9,1506.4 L640.8,1507.2 L648.6,1508.0 L656.5,1508.9 L664.3,1509.7 L672.2,1510.6 L680.1,1511.4 L687.9,1512.3 L695.8,1513.1 L703.7,1513.8 L711.5,1514.5 L719.4,1515.2 L727.3,1515.7 L735.2,1516.2 L743.1,1516.6 L751.0,1516.9 L758.9,1517.1 L766.7,1517.1 L774.6,1517.0 L782.6,1516.7 L790.5,1516.3 L798.4,1515.8 L806.3,1515.2 L814.2,1514.4 L822.1,1513.6 L830.0,1512.8 L837.9,1511.9 L845.7,1510.9 L853.6,1510.0 L861.5,1509.1 L869.3,1508.3 L877.2,1507.5 L885.0,1506.7 L892.9,1506.0 L900.7,1505.4 L908.5,1504.8 L916.3,1504.2 L924.1,1503.6 L931.9,1503.0 L939.7,1502.5 L947.5,1501.9 L955.3,1501.3 L963.1,1500.7 L970.9,1500.1 L978.8,1499.4 L986.6,1498.7 L994.4,1497.9 L1002.3,1497.1 L1010.2,1496.2 L1018.0,1495.2 L1025.9,1494.2 L1033.8,1493.0 L1041.8,1491.8 L1049.7,1490.5 L1057.7,1489.0 L1065.6,1487.4 L1073.5,1485.6 L1081.3,1483.6 L1089.0,1481.4 L1096.6,1478.9 L1104.0,1476.2 L1111.2,1473.1 L1118.1,1469.7 L1124.9,1466.0 L1131.3,1461.9 L1137.5,1457.3 L1143.3,1452.3 L1148.8,1446.9 L1153.8,1441.0 L1158.5,1434.5 L1162.7,1427.6 L1166.3,1420.2 L1169.2,1412.5 L1171.4,1404.6 L1172.7,1396.6 L1173.0,1388.6 L1172.2,1380.7 L1170.3,1373.1 L1167.5,1365.8 L1163.8,1358.9 L1159.4,1352.5 L1154.1,1346.8 L1148.3,1341.6 L1141.9,1337.3 L1135.0,1333.8 L1127.6,1331.1 L1120.0,1329.1 L1112.1,1327.5 L1104.0,1326.4 L1095.9,1325.5 L1087.8,1324.8 L1079.7,1324.1 L1071.7,1323.4 L1063.8,1322.7 L1055.9,1322.1 L1048.0,1321.5 L1040.2,1320.9 L1032.4,1320.4Z" stroke="#3cb44b"/>
<path d="M1032.3,1302.1 L1023.9,1302.0 L1015.5,1301.8 L1007.1,1301.7 L998.8,1301.5 L990.4,1301.4 L982.0,1301.2 L973.6,1301.0 L965.2,1300.9 L956.8,1300.7 L948.3,1300.5 L939.9,1300.4 L931.5,1300.2 L923.1,1300.0 L914.7,1299.8 L906.3,1299.7 L897.8,1299.5 L889.4,1299.3 L881.0,1299.2 L872.5,1299.0 L864.1,1298.9 L855.7,1298.7 L847.2,1298.6 L838.8,1298.4 L830.4,1298.3 L821.9,1298.2 L813.5,1298.1 L805.0,1297.9 L796.6,1297.8 L788.2,1297.8 L779.7,1297.7 L771.3,1297.6 L762.8,1297.5 L754.4,1297.5 L745.9,1297.5 L737.5,1297.4 L729.0,1297.4 L720.6,1297.4 L712.2,1297.4 L703.7,1297.5 L695.3,1297.5 L686.8,1297.6 L678.4,1297.7 L669.9,1297.8 L661.5,1297.9 L653.1,1298.0 L644.6,1298.2 L636.2,1298.3 L627.7,1298.5 L619.3,1298.7 L610.9,1299.0 L602.5,1299.2 L594.0,1299.5 L585.6,1299.8 L577.2,1300.1 L568.7,1300.5 L560.3,1300.8 L551.9,1301.2 L543.5,1301.5 L535.1,1301.9 L526.6,1302.3 L518.2,1302.6 L509.8,1303.0 L501.4,1303.3 L493.0,1303.7 L484.6,1304.0 L476.2,1304.4 L467.8,1304.7 L459.3,1305.0 L450.9,1305.2 L442.5,1305.5 L434.1,1306.0 L425.7,1306.7 L417.3,1307.6 L408.9,1309.0 L400.5,1310.8 L392.2,1313.2 L384.1,1316.2 L376.4,1319.9 L369.4,1324.4 L363.0,1329.6 L357.5,1335.7 L352.8,1342.5 L348.8,1349.8 L345.5,1357.6 L342.8,1365.6 L340.6,1373.9 L338.9,1382.2 L337.7,1390.6 L337.0,1398.9 L336.7,1407.3 L336.8,1415.7 L337.3,1424.2 L338.3,1432.6 L339.7,1441.1 L341.5,1449.5 L343.7,1457.9 L346.4,1466.0 L349.6,1473.9 L353.3,1481.5 L357.5,1488.7 L362.2,1495.5 L367.6,1501.7 L373.5,1507.3 L380.1,1512.2 L387.2,1516.5 L394.8,1520.2 L402.7,1523.3 L410.9,1526.1 L419.2,1528.4 L427.6,1530.5 L435.9,1532.3 L444.3,1533.9 L452.7,1535.2 L461.0,1536.4 L469.4,1537.4 L477.7,1538.3 L486.1,1539.0 L494.5,1539.7 L502.9,1540.2 L511.2,1540.7 L519.6,1541.1 L528.0,1541.5 L536.4,1541.9 L544.8,1542.4 L553.2,1542.8 L561.6,1543.4 L570.0,1543.9 L578.4,1544.6 L586.8,1545.2 L595.2,1545.9 L603.7,1546.6 L612.1,1547.3 L620.5,1548.0 L628.9,1548.7 L637.4,1549.4 L645.8,1550.1 L654.2,1550.8 L662.7,1551.5 L671.1,1552.1 L679.6,1552.6 L688.0,1553.2 L696.4,1553.6 L704.9,1554.0 L713.3,1554.3 L721.7,1554.6 L730.1,1554.8 L738.6,1554.9 L747.0,1554.9 L755.4,1554.9 L763.8,1554.8 L772.2,1554.7 L780.7,1554.5 L789.1,1554.3 L797.5,1554.0 L805.9,1553.7 L814.3,1553.3 L822.7,1553.0 L831.2,1552.6 L839.6,1552.1 L848.0,1551.7 L856.4,1551.2 L864.8,1550.7 L873.2,1550.2 L881.7,1549.7 L890.1,1549.2 L898.5,1548.7 L906.9,1548.2 L915.4,1547.7 L923.8,1547.2 L932.2,1546.7 L940.6,1546.3 L949.1,1545.8 L957.5,1545.4 L966.0,1545.1 L974.4,1544.7 L982.8,1544.4 L991.3,1544.0 L999.7,1543.6 L1008.2,1543.2 L1016.6,1542.7 L1025.0,1542.2 L1033.4,1541.5 L1041.8,1540.8 L1050.2,1540.0 L1058.6,1539.0 L1066.9,1537.9 L1075.3,1536.6 L1083.6,1535.2 L1091.9,1533.6 L1100.2,1531.8 L1108.4,1529.7 L1116.6,1527.4 L1124.8,1524.9 L1132.8,1522.0 L1140.5,1518.7 L1147.9,1514.9 L1155.0,1510.6 L1161.6,1505.7 L1167.7,1500.1 L1173.2,1493.9 L1178.0,1486.9 L1182.1,1479.3 L1185.6,1471.3 L1188.5,1463.1 L1190.7,1455.0 L1192.5,1446.9 L1193.9,1438.7 L1195.0,1430.4 L1195.9,1422.1 L1196.7,1413.6 L1197.4,1405.0 L1197.9,1396.3 L1198.1,1387.6 L1197.9,1378.9 L1197.3,1370.3 L1196.2,1361.9 L1194.4,1353.6 L1192.0,1345.5 L1188.8,1337.7 L1184.8,1330.4 L1180.0,1323.9 L1174.1,1318.5 L1167.4,1314.4 L1159.8,1311.3 L1151.7,1309.1 L1143.2,1307.6 L1134.4,1306.6 L1125.6,1305.8 L1117.0,1305.1 L1108.3,1304.5 L1099.7,1304.0 L1091.2,1303.6 L1082.7,1303.2 L1074.3,1303.0 L1065.8,1302.7 L1057.4,1302.6 L1049.0,1302.4 L1040.7,1302.3 L1032.3,1302.1Z" stroke="#3cb44b"/>
<path d="M767.0,1285.7 L758.5,1285.6 L749.9,1285.6 L741.4,1285.5 L732.9,1285.5 L724.3,1285.4 L715.8,1285.4 L707.3,1285.4 L698.7,1285.4 L690.2,1285.4 L681.6,1285.4 L673.1,1285.4 L664.6,1285.4 L656.0,1285.4 L647.5,1285.5 L638.9,1285.5 L630.4,1285.6 L621.8,1285.7 L613.3,1285.7 L604.8,1285.8 L596.2,1285.9 L587.7,1286.1 L579.1,1286.2 L570.6,1286.3 L562.1,1286.5 L553.5,1286.6 L545.0,1286.8 L536.4,1287.0 L527.9,1287.2 L519.4,1287.4 L510.8,1287.6 L502.3,1287.9 L493.7,1288.1 L485.2,1288.4 L476.7,1288.7 L468.1,1289.0 L459.6,1289.3 L451.1,1289.6 L442.5,1290.0 L434.0,1290.3 L425.5,1290.7 L417.0,1291.1 L408.4,1291.5 L399.9,1292.0 L391.5,1292.8 L383.1,1294.0 L374.8,1295.8 L366.6,1298.5 L358.7,1302.0 L351.1,1306.5 L344.2,1311.8 L338.2,1317.9 L333.0,1324.5 L328.5,1331.6 L324.6,1339.2 L321.3,1347.0 L318.3,1355.1 L315.8,1363.2 L313.5,1371.5 L311.5,1379.8 L309.8,1388.1 L308.2,1396.5 L306.9,1404.9 L305.7,1413.4 L304.5,1421.9 L303.5,1430.4 L302.6,1438.9 L301.6,1447.4 L300.7,1455.9 L299.8,1464.4 L299.0,1472.9 L298.2,1481.4 L297.5,1489.9 L296.8,1498.4 L296.2,1506.9 L295.5,1515.4 L295.0,1523.9 L294.5,1532.4 L294.0,1540.9 L293.6,1549.4 L293.3,1557.9 L293.0,1566.5 L292.8,1575.0 L292.7,1583.6 L292.7,1592.2 L292.9,1600.9 L293.8,1609.4 L296.0,1617.7 L300.1,1625.0 L306.4,1630.6 L314.3,1634.2 L322.7,1636.3 L331.2,1637.4 L339.7,1637.9 L348.2,1638.3 L356.8,1638.6 L365.3,1638.9 L373.9,1639.2 L382.4,1639.5 L390.9,1639.8 L399.5,1640.0 L408.0,1640.3 L416.6,1640.5 L425.1,1640.7 L433.6,1640.9 L442.2,1641.0 L450.7,1641.2 L459.3,1641.3 L467.8,1641.5 L476.3,1641.6 L484.9,1641.7 L493.4,1641.8 L501.9,1641.9 L510.5,1641.9 L519.0,1642.0 L527.5,1642.1 L536.1,1642.1 L544.6,1642.1 L553.2,1642.2 L561.7,1642.2 L570.2,1642.2 L578.8,1642.2 L587.3,1642.2 L595.8,1642.2 L604.4,1642.2 L612.9,1642.1 L621.4,1642.1 L630.0,1642.1 L638.5,1642.0 L647.0,1642.0 L655.6,1642.0 L664.1,1641.9 L672.7,1641.9 L681.2,1641.8 L689.7,1641.8 L698.3,1641.7 L706.8,1641.7 L715.4,1641.6 L723.9,1641.6 L732.4,1641.5 L741.0,1641.5 L749.5,1641.4 L758.1,1641.4 L766.6,1641.3 L775.1,1641.3 L783.7,1641.3 L792.2,1641.2 L800.8,1641.2 L809.3,1641.2 L817.8,1641.2 L826.4,1641.1 L834.9,1641.1 L843.5,1641.1 L852.0,1641.1 L860.6,1641.1 L869.1,1641.1 L877.7,1641.0 L886.2,1641.0 L894.7,1641.0 L903.3,1641.0 L911.8,1641.0 L920.4,1641.0 L928.9,1641.0 L937.5,1641.0 L946.0,1641.0 L954.6,1641.0 L963.1,1641.0 L971.6,1640.9 L980.2,1640.9 L988.7,1640.9 L997.3,1640.9 L1005.8,1640.9 L1014.3,1640.9 L1022.9,1640.9 L1031.4,1640.8 L1039.9,1640.8 L1048.5,1640.8 L1057.0,1640.8 L1065.5,1640.7 L1074.1,1640.7 L1082.6,1640.7 L1091.1,1640.6 L1099.7,1640.6 L1108.2,1640.5 L1116.7,1640.5 L1125.2,1640.4 L1133.8,1640.4 L1142.3,1640.3 L1150.8,1640.2 L1159.3,1640.1 L1167.8,1640.0 L1176.4,1639.8 L1184.9,1639.3 L1193.5,1638.7 L1202.1,1637.9 L1210.7,1636.7 L1219.3,1635.1 L1227.5,1632.6 L1234.0,1628.1 L1238.1,1620.8 L1240.5,1612.6 L1241.9,1604.3 L1242.5,1595.8 L1242.5,1587.2 L1242.1,1578.5 L1241.5,1569.9 L1241.0,1561.3 L1240.5,1552.7 L1240.1,1544.1 L1239.6,1535.6 L1239.1,1527.1 L1238.6,1518.6 L1238.1,1510.1 L1237.5,1501.6 L1236.9,1493.1 L1236.3,1484.6 L1235.5,1476.2 L1234.8,1467.7 L1233.9,1459.3 L1233.0,1450.8 L1231.9,1442.3 L1230.8,1433.9 L1229.5,1425.4 L1228.2,1416.9 L1226.8,1408.5 L1225.4,1400.0 L1223.9,1391.6 L1222.3,1383.1 L1220.8,1374.7 L1219.2,1366.3 L1217.5,1358.0 L1215.6,1349.7 L1213.3,1341.5 L1210.4,1333.4 L1206.9,1325.5 L1202.5,1317.9 L1197.3,1310.9 L1191.3,1304.7 L1184.4,1299.8 L1176.8,1296.4 L1168.7,1294.1 L1160.1,1292.7 L1151.3,1291.8 L1142.6,1291.1 L1133.9,1290.5 L1125.3,1290.0 L1116.8,1289.6 L1108.3,1289.1 L1099.9,1288.8 L1091.4,1288.4 L1082.9,1288.1 L1074.4,1287.9 L1065.9,1287.7 L1057.4,1287.5 L1048.9,1287.3 L1040.3,1287.2 L1031.8,1287.1 L1023.3,1287.0 L1014.7,1287.0 L1006.2,1286.9 L997.6,1286.9 L989.1,1286.9 L980.5,1286.9 L972.0,1286.9 L963.4,1286.9 L954.9,1286.9 L946.3,1287.0 L937.8,1287.0 L929.2,1287.0 L920.7,1287.0 L912.1,1287.0 L903.6,1286.9 L895.0,1286.9 L886.5,1286.9 L877.9,1286.8 L869.4,1286.7 L860.9,1286.7 L852.3,1286.6 L843.8,1286.5 L835.3,1286.4 L826.7,1286.3 L818.2,1286.2 L809.7,1286.1 L801.1,1286.0 L792.6,1285.9 L784.1,1285.9 L775.5,1285.8 L767.0,1285.7Z" stroke="#3cb44b"/>
</g>
<rect x="402.5" y="30.4" width="949.7" height="605.7" fill="none" stroke="#000" stroke-width="2.8" stroke-linejoin="miter"/>
<rect x="170.3" y="797.5" width="1193.7" height="367.0" fill="none" stroke="#000" stroke-width="2.6" stroke-linejoin="miter"/>
<rect x="170.3" y="1274.6" width="1193.7" height="372.4" fill="none" stroke="#000" stroke-width="2.6" stroke-linejoin="miter"/>
<path d="M402.5,608.8H393.0 M402.5,537.0H393.0 M402.5,465.2H393.0 M402.5,393.5H393.0 M402.5,321.7H393.0 M402.5,249.9H393.0 M402.5,178.1H393.0 M402.5,106.4H393.0 M402.5,34.6H393.0 M402.5,636.1V645.5 M592.4,636.1V645.5 M782.4,636.1V645.5 M972.3,636.1V645.5 M1162.3,636.1V645.5 M1352.2,636.1V645.5 M170.3,1164.3H158.6 M170.3,1646.6H158.6 M170.3,1043.1H158.6 M170.3,1523.8H158.6 M170.3,921.9H158.6 M170.3,1401.1H158.6 M170.3,800.7H158.6 M170.3,1278.3H158.6 M296.5,1164.5V1175.9 M296.5,1647.0V1658.6 M453.3,1164.5V1175.9 M453.3,1647.0V1658.6 M610.1,1164.5V1175.9 M610.1,1647.0V1658.6 M767.0,1164.5V1175.9 M767.0,1647.0V1658.6 M923.9,1164.5V1175.9 M923.9,1647.0V1658.6 M1080.7,1164.5V1175.9 M1080.7,1647.0V1658.6 M1237.5,1164.5V1175.9 M1237.5,1647.0V1658.6" stroke="#000" stroke-width="2.6" fill="none"/>
<text class="tk" x="383.9" y="621.8" font-size="34.3" text-anchor="end" textLength="75.3" lengthAdjust="spacingAndGlyphs">0.00</text>
<text class="tk" x="383.9" y="550.0" font-size="34.3" text-anchor="end" textLength="75.3" lengthAdjust="spacingAndGlyphs">0.05</text>
<text class="tk" x="383.9" y="478.3" font-size="34.3" text-anchor="end" textLength="75.3" lengthAdjust="spacingAndGlyphs">0.10</text>
<text class="tk" x="383.9" y="406.5" font-size="34.3" text-anchor="end" textLength="75.3" lengthAdjust="spacingAndGlyphs">0.15</text>
<text class="tk" x="383.9" y="334.7" font-size="34.3" text-anchor="end" textLength="75.3" lengthAdjust="spacingAndGlyphs">0.20</text>
<text class="tk" x="383.9" y="262.9" font-size="34.3" text-anchor="end" textLength="75.3" lengthAdjust="spacingAndGlyphs">0.25</text>
<text class="tk" x="383.9" y="191.2" font-size="34.3" text-anchor="end" textLength="75.3" lengthAdjust="spacingAndGlyphs">0.30</text>
<text class="tk" x="383.9" y="119.4" font-size="34.3" text-anchor="end" textLength="75.3" lengthAdjust="spacingAndGlyphs">0.35</text>
<text class="tk" x="383.9" y="47.6" font-size="34.3" text-anchor="end" textLength="75.3" lengthAdjust="spacingAndGlyphs">0.40</text>
<text class="tk" x="402.5" y="681.0" font-size="34.3" text-anchor="middle">0.0</text>
<text class="tk" x="592.4" y="681.0" font-size="34.3" text-anchor="middle">0.2</text>
<text class="tk" x="782.4" y="681.0" font-size="34.3" text-anchor="middle">0.4</text>
<text class="tk" x="972.3" y="681.0" font-size="34.3" text-anchor="middle">0.6</text>
<text class="tk" x="1162.3" y="681.0" font-size="34.3" text-anchor="middle">0.8</text>
<text class="tk" x="1352.2" y="681.0" font-size="34.3" text-anchor="middle">1.0</text>
<text class="tk" x="147.5" y="1179.5" font-size="41.6" text-anchor="end" textLength="64.6" lengthAdjust="spacingAndGlyphs">0.0</text>
<text class="tk" x="147.5" y="1661.8" font-size="41.6" text-anchor="end" textLength="64.6" lengthAdjust="spacingAndGlyphs">0.0</text>
<text class="tk" x="147.5" y="1058.3" font-size="41.6" text-anchor="end" textLength="64.6" lengthAdjust="spacingAndGlyphs">0.1</text>
<text class="tk" x="147.5" y="1539.0" font-size="41.6" text-anchor="end" textLength="64.6" lengthAdjust="spacingAndGlyphs">0.1</text>
<text class="tk" x="147.5" y="937.1" font-size="41.6" text-anchor="end" textLength="64.6" lengthAdjust="spacingAndGlyphs">0.2</text>
<text class="tk" x="147.5" y="1416.2" font-size="41.6" text-anchor="end" textLength="64.6" lengthAdjust="spacingAndGlyphs">0.2</text>
<text class="tk" x="147.5" y="815.9" font-size="41.6" text-anchor="end" textLength="64.6" lengthAdjust="spacingAndGlyphs">0.3</text>
<text class="tk" x="147.5" y="1293.5" font-size="41.6" text-anchor="end" textLength="64.6" lengthAdjust="spacingAndGlyphs">0.3</text>
<text class="tk" x="296.5" y="1701.0" font-size="41.6" text-anchor="middle" textLength="97.2" lengthAdjust="spacingAndGlyphs">−1.5</text>
<text class="tk" x="453.3" y="1701.0" font-size="41.6" text-anchor="middle" textLength="97.2" lengthAdjust="spacingAndGlyphs">−1.0</text>
<text class="tk" x="610.1" y="1701.0" font-size="41.6" text-anchor="middle" textLength="97.2" lengthAdjust="spacingAndGlyphs">−0.5</text>
<text class="tk" x="767.0" y="1701.0" font-size="41.6" text-anchor="middle" textLength="64.4" lengthAdjust="spacingAndGlyphs">0.0</text>
<text class="tk" x="923.9" y="1701.0" font-size="41.6" text-anchor="middle" textLength="64.4" lengthAdjust="spacingAndGlyphs">0.5</text>
<text class="tk" x="1080.7" y="1701.0" font-size="41.6" text-anchor="middle" textLength="64.4" lengthAdjust="spacingAndGlyphs">1.0</text>
<text class="tk" x="1237.5" y="1701.0" font-size="41.6" text-anchor="middle" textLength="64.4" lengthAdjust="spacingAndGlyphs">1.5</text>
<text class="tk" x="877.3" y="735.0" font-size="50" text-anchor="middle"><tspan font-style="italic">r</tspan>/<tspan font-style="italic">r</tspan><tspan font-style="italic" font-size="35" dx="-2" dy="8">s</tspan></text>
<text class="tk" transform="translate(289.2,334.4) rotate(-90)" font-size="49.4" text-anchor="middle">Ω<tspan font-style="italic" font-size="34.6" dy="7.5">t</tspan><tspan dy="-7.5">/Ω</tspan><tspan font-style="italic" font-size="34.6" dy="7.5">A</tspan></text>
<text class="tk" transform="translate(59.5,981.3) rotate(-90)" font-size="59.4" text-anchor="middle" textLength="143.5" lengthAdjust="spacingAndGlyphs"><tspan font-style="italic">r</tspan> (m)</text>
<text class="tk" transform="translate(59.5,1460.9) rotate(-90)" font-size="59.4" text-anchor="middle" textLength="143.5" lengthAdjust="spacingAndGlyphs"><tspan font-style="italic">r</tspan> (m)</text>
<text class="tk" x="766.7" y="1765.8" font-size="57.7" text-anchor="middle"><tspan font-style="italic">z</tspan> (m)</text>
<text class="cal" x="196.8" y="149.4" font-size="80.5" textLength="87.4" lengthAdjust="spacingAndGlyphs">(a)</text>
<text class="cal" x="196.8" y="884.1" font-size="80.5" textLength="91.1" lengthAdjust="spacingAndGlyphs">(b)</text>
<text class="cal" x="196.8" y="1381.2" font-size="80.5" textLength="82.9" lengthAdjust="spacingAndGlyphs">(c)</text>
<rect x="1035.30" y="817.50" width="308.60" height="128.60" rx="5.5" ry="5.5" fill="#fff" stroke="#cccccc" stroke-width="3.2"/>
<path d="M1051,849.6H1131.2" stroke="#e6194b" stroke-width="5" stroke-dasharray="18.7 7.7" fill="none"/>
<path d="M1051,908.0H1131.2" stroke="#4363d8" stroke-width="5" fill="none"/>
<text class="cal" x="1163.5" y="863.8" font-size="48" textLength="163.2" lengthAdjust="spacingAndGlyphs">w/o flow</text>
<text class="cal" x="1163.5" y="922.0" font-size="48" textLength="138.9" lengthAdjust="spacingAndGlyphs">w/ flow</text>
<rect x="1035.30" y="1294.70" width="308.60" height="128.60" rx="5.5" ry="5.5" fill="#fff" stroke="#cccccc" stroke-width="3.2"/>
<path d="M1051,1326.8H1131.2" stroke="#e6194b" stroke-width="5" stroke-dasharray="18.7 7.7" fill="none"/>
<path d="M1051,1385.2H1131.2" stroke="#3cb44b" stroke-width="5" fill="none"/>
<text class="cal" x="1163.5" y="1341.0" font-size="48" textLength="163.2" lengthAdjust="spacingAndGlyphs">w/o flow</text>
<text class="cal" x="1163.5" y="1399.2" font-size="48" textLength="138.9" lengthAdjust="spacingAndGlyphs">w/ flow</text>
</svg></body></html>
